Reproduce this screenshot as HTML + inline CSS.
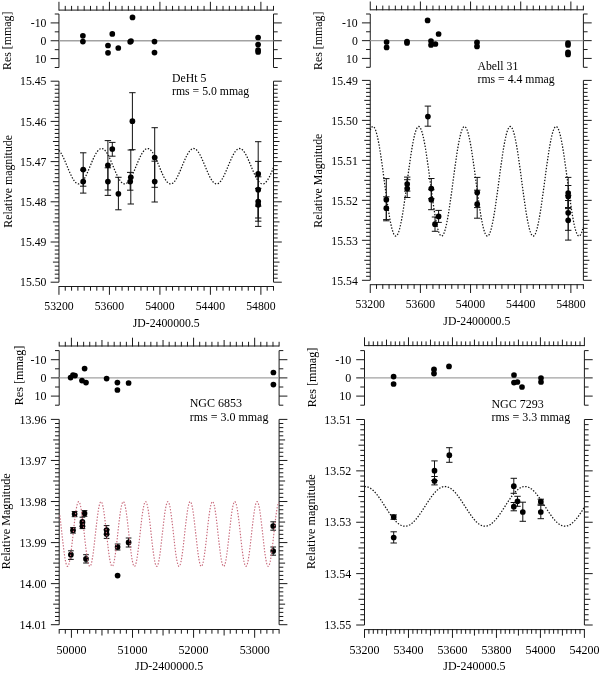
<!DOCTYPE html>
<html><head><meta charset="utf-8"><style>
html,body{margin:0;padding:0;background:#fff;}
body{width:600px;height:673px;overflow:hidden;}
svg{display:block;filter:blur(0.3px);}
text{font-family:"Liberation Serif",serif;fill:#000;}
</style></head><body>
<svg width="600" height="673" viewBox="0 0 600 673">
<rect width="600" height="673" fill="#fff"/>
<line x1="58.95" y1="10.10" x2="273.50" y2="10.10" stroke="#1a1a1a" stroke-width="1.0" />
<line x1="58.95" y1="10.60" x2="58.95" y2="1.80" stroke="#1a1a1a" stroke-width="1.0" />
<line x1="65.26" y1="10.60" x2="65.26" y2="5.90" stroke="#1a1a1a" stroke-width="1.0" />
<line x1="71.57" y1="10.60" x2="71.57" y2="5.90" stroke="#1a1a1a" stroke-width="1.0" />
<line x1="77.88" y1="10.60" x2="77.88" y2="5.90" stroke="#1a1a1a" stroke-width="1.0" />
<line x1="84.19" y1="10.60" x2="84.19" y2="5.90" stroke="#1a1a1a" stroke-width="1.0" />
<line x1="90.50" y1="10.60" x2="90.50" y2="5.90" stroke="#1a1a1a" stroke-width="1.0" />
<line x1="96.81" y1="10.60" x2="96.81" y2="5.90" stroke="#1a1a1a" stroke-width="1.0" />
<line x1="103.12" y1="10.60" x2="103.12" y2="5.90" stroke="#1a1a1a" stroke-width="1.0" />
<line x1="109.43" y1="10.60" x2="109.43" y2="1.80" stroke="#1a1a1a" stroke-width="1.0" />
<line x1="115.74" y1="10.60" x2="115.74" y2="5.90" stroke="#1a1a1a" stroke-width="1.0" />
<line x1="122.05" y1="10.60" x2="122.05" y2="5.90" stroke="#1a1a1a" stroke-width="1.0" />
<line x1="128.36" y1="10.60" x2="128.36" y2="5.90" stroke="#1a1a1a" stroke-width="1.0" />
<line x1="134.67" y1="10.60" x2="134.67" y2="5.90" stroke="#1a1a1a" stroke-width="1.0" />
<line x1="140.98" y1="10.60" x2="140.98" y2="5.90" stroke="#1a1a1a" stroke-width="1.0" />
<line x1="147.29" y1="10.60" x2="147.29" y2="5.90" stroke="#1a1a1a" stroke-width="1.0" />
<line x1="153.60" y1="10.60" x2="153.60" y2="5.90" stroke="#1a1a1a" stroke-width="1.0" />
<line x1="159.91" y1="10.60" x2="159.91" y2="1.80" stroke="#1a1a1a" stroke-width="1.0" />
<line x1="166.23" y1="10.60" x2="166.23" y2="5.90" stroke="#1a1a1a" stroke-width="1.0" />
<line x1="172.54" y1="10.60" x2="172.54" y2="5.90" stroke="#1a1a1a" stroke-width="1.0" />
<line x1="178.85" y1="10.60" x2="178.85" y2="5.90" stroke="#1a1a1a" stroke-width="1.0" />
<line x1="185.16" y1="10.60" x2="185.16" y2="5.90" stroke="#1a1a1a" stroke-width="1.0" />
<line x1="191.47" y1="10.60" x2="191.47" y2="5.90" stroke="#1a1a1a" stroke-width="1.0" />
<line x1="197.78" y1="10.60" x2="197.78" y2="5.90" stroke="#1a1a1a" stroke-width="1.0" />
<line x1="204.09" y1="10.60" x2="204.09" y2="5.90" stroke="#1a1a1a" stroke-width="1.0" />
<line x1="210.40" y1="10.60" x2="210.40" y2="1.80" stroke="#1a1a1a" stroke-width="1.0" />
<line x1="216.71" y1="10.60" x2="216.71" y2="5.90" stroke="#1a1a1a" stroke-width="1.0" />
<line x1="223.02" y1="10.60" x2="223.02" y2="5.90" stroke="#1a1a1a" stroke-width="1.0" />
<line x1="229.33" y1="10.60" x2="229.33" y2="5.90" stroke="#1a1a1a" stroke-width="1.0" />
<line x1="235.64" y1="10.60" x2="235.64" y2="5.90" stroke="#1a1a1a" stroke-width="1.0" />
<line x1="241.95" y1="10.60" x2="241.95" y2="5.90" stroke="#1a1a1a" stroke-width="1.0" />
<line x1="248.26" y1="10.60" x2="248.26" y2="5.90" stroke="#1a1a1a" stroke-width="1.0" />
<line x1="254.57" y1="10.60" x2="254.57" y2="5.90" stroke="#1a1a1a" stroke-width="1.0" />
<line x1="260.88" y1="10.60" x2="260.88" y2="1.80" stroke="#1a1a1a" stroke-width="1.0" />
<line x1="267.19" y1="10.60" x2="267.19" y2="5.90" stroke="#1a1a1a" stroke-width="1.0" />
<line x1="273.50" y1="10.60" x2="273.50" y2="5.90" stroke="#1a1a1a" stroke-width="1.0" />
<line x1="58.95" y1="286.50" x2="273.50" y2="286.50" stroke="#1a1a1a" stroke-width="1.0" />
<line x1="58.95" y1="286.00" x2="58.95" y2="294.80" stroke="#1a1a1a" stroke-width="1.0" />
<line x1="65.26" y1="286.00" x2="65.26" y2="290.70" stroke="#1a1a1a" stroke-width="1.0" />
<line x1="71.57" y1="286.00" x2="71.57" y2="290.70" stroke="#1a1a1a" stroke-width="1.0" />
<line x1="77.88" y1="286.00" x2="77.88" y2="290.70" stroke="#1a1a1a" stroke-width="1.0" />
<line x1="84.19" y1="286.00" x2="84.19" y2="290.70" stroke="#1a1a1a" stroke-width="1.0" />
<line x1="90.50" y1="286.00" x2="90.50" y2="290.70" stroke="#1a1a1a" stroke-width="1.0" />
<line x1="96.81" y1="286.00" x2="96.81" y2="290.70" stroke="#1a1a1a" stroke-width="1.0" />
<line x1="103.12" y1="286.00" x2="103.12" y2="290.70" stroke="#1a1a1a" stroke-width="1.0" />
<line x1="109.43" y1="286.00" x2="109.43" y2="294.80" stroke="#1a1a1a" stroke-width="1.0" />
<line x1="115.74" y1="286.00" x2="115.74" y2="290.70" stroke="#1a1a1a" stroke-width="1.0" />
<line x1="122.05" y1="286.00" x2="122.05" y2="290.70" stroke="#1a1a1a" stroke-width="1.0" />
<line x1="128.36" y1="286.00" x2="128.36" y2="290.70" stroke="#1a1a1a" stroke-width="1.0" />
<line x1="134.67" y1="286.00" x2="134.67" y2="290.70" stroke="#1a1a1a" stroke-width="1.0" />
<line x1="140.98" y1="286.00" x2="140.98" y2="290.70" stroke="#1a1a1a" stroke-width="1.0" />
<line x1="147.29" y1="286.00" x2="147.29" y2="290.70" stroke="#1a1a1a" stroke-width="1.0" />
<line x1="153.60" y1="286.00" x2="153.60" y2="290.70" stroke="#1a1a1a" stroke-width="1.0" />
<line x1="159.91" y1="286.00" x2="159.91" y2="294.80" stroke="#1a1a1a" stroke-width="1.0" />
<line x1="166.23" y1="286.00" x2="166.23" y2="290.70" stroke="#1a1a1a" stroke-width="1.0" />
<line x1="172.54" y1="286.00" x2="172.54" y2="290.70" stroke="#1a1a1a" stroke-width="1.0" />
<line x1="178.85" y1="286.00" x2="178.85" y2="290.70" stroke="#1a1a1a" stroke-width="1.0" />
<line x1="185.16" y1="286.00" x2="185.16" y2="290.70" stroke="#1a1a1a" stroke-width="1.0" />
<line x1="191.47" y1="286.00" x2="191.47" y2="290.70" stroke="#1a1a1a" stroke-width="1.0" />
<line x1="197.78" y1="286.00" x2="197.78" y2="290.70" stroke="#1a1a1a" stroke-width="1.0" />
<line x1="204.09" y1="286.00" x2="204.09" y2="290.70" stroke="#1a1a1a" stroke-width="1.0" />
<line x1="210.40" y1="286.00" x2="210.40" y2="294.80" stroke="#1a1a1a" stroke-width="1.0" />
<line x1="216.71" y1="286.00" x2="216.71" y2="290.70" stroke="#1a1a1a" stroke-width="1.0" />
<line x1="223.02" y1="286.00" x2="223.02" y2="290.70" stroke="#1a1a1a" stroke-width="1.0" />
<line x1="229.33" y1="286.00" x2="229.33" y2="290.70" stroke="#1a1a1a" stroke-width="1.0" />
<line x1="235.64" y1="286.00" x2="235.64" y2="290.70" stroke="#1a1a1a" stroke-width="1.0" />
<line x1="241.95" y1="286.00" x2="241.95" y2="290.70" stroke="#1a1a1a" stroke-width="1.0" />
<line x1="248.26" y1="286.00" x2="248.26" y2="290.70" stroke="#1a1a1a" stroke-width="1.0" />
<line x1="254.57" y1="286.00" x2="254.57" y2="290.70" stroke="#1a1a1a" stroke-width="1.0" />
<line x1="260.88" y1="286.00" x2="260.88" y2="294.80" stroke="#1a1a1a" stroke-width="1.0" />
<line x1="267.19" y1="286.00" x2="267.19" y2="290.70" stroke="#1a1a1a" stroke-width="1.0" />
<line x1="273.50" y1="286.00" x2="273.50" y2="290.70" stroke="#1a1a1a" stroke-width="1.0" />
<text x="58.95" y="310.30" text-anchor="middle" font-size="11.75" >53200</text>
<text x="109.43" y="310.30" text-anchor="middle" font-size="11.75" >53600</text>
<text x="159.91" y="310.30" text-anchor="middle" font-size="11.75" >54000</text>
<text x="210.40" y="310.30" text-anchor="middle" font-size="11.75" >54400</text>
<text x="260.88" y="310.30" text-anchor="middle" font-size="11.75" >54800</text>
<text x="166.22" y="326.80" text-anchor="middle" font-size="11.75" >JD-2400000.5</text>
<line x1="58.95" y1="14.00" x2="58.95" y2="67.50" stroke="#1a1a1a" stroke-width="1.0" />
<line x1="58.95" y1="14.00" x2="54.75" y2="14.00" stroke="#1a1a1a" stroke-width="1.0" />
<line x1="58.95" y1="22.92" x2="50.65" y2="22.92" stroke="#1a1a1a" stroke-width="1.0" />
<line x1="58.95" y1="31.83" x2="54.75" y2="31.83" stroke="#1a1a1a" stroke-width="1.0" />
<line x1="58.95" y1="40.75" x2="50.65" y2="40.75" stroke="#1a1a1a" stroke-width="1.0" />
<line x1="58.95" y1="49.67" x2="54.75" y2="49.67" stroke="#1a1a1a" stroke-width="1.0" />
<line x1="58.95" y1="58.58" x2="50.65" y2="58.58" stroke="#1a1a1a" stroke-width="1.0" />
<line x1="58.95" y1="67.50" x2="54.75" y2="67.50" stroke="#1a1a1a" stroke-width="1.0" />
<line x1="273.50" y1="14.00" x2="273.50" y2="67.50" stroke="#1a1a1a" stroke-width="1.0" />
<line x1="273.50" y1="14.00" x2="277.70" y2="14.00" stroke="#1a1a1a" stroke-width="1.0" />
<line x1="273.50" y1="22.92" x2="281.80" y2="22.92" stroke="#1a1a1a" stroke-width="1.0" />
<line x1="273.50" y1="31.83" x2="277.70" y2="31.83" stroke="#1a1a1a" stroke-width="1.0" />
<line x1="273.50" y1="40.75" x2="281.80" y2="40.75" stroke="#1a1a1a" stroke-width="1.0" />
<line x1="273.50" y1="49.67" x2="277.70" y2="49.67" stroke="#1a1a1a" stroke-width="1.0" />
<line x1="273.50" y1="58.58" x2="281.80" y2="58.58" stroke="#1a1a1a" stroke-width="1.0" />
<line x1="273.50" y1="67.50" x2="277.70" y2="67.50" stroke="#1a1a1a" stroke-width="1.0" />
<text x="46.45" y="27.12" text-anchor="end" font-size="11.75" >-10</text>
<text x="46.45" y="44.95" text-anchor="end" font-size="11.75" >0</text>
<text x="46.45" y="62.78" text-anchor="end" font-size="11.75" >10</text>
<line x1="58.95" y1="40.75" x2="273.50" y2="40.75" stroke="#a2a2a2" stroke-width="1.4"/>
<line x1="58.95" y1="81.20" x2="58.95" y2="282.20" stroke="#1a1a1a" stroke-width="1.0" />
<line x1="58.95" y1="81.20" x2="50.65" y2="81.20" stroke="#1a1a1a" stroke-width="1.0" />
<line x1="58.95" y1="85.22" x2="54.75" y2="85.22" stroke="#1a1a1a" stroke-width="1.0" />
<line x1="58.95" y1="89.24" x2="54.75" y2="89.24" stroke="#1a1a1a" stroke-width="1.0" />
<line x1="58.95" y1="93.26" x2="54.75" y2="93.26" stroke="#1a1a1a" stroke-width="1.0" />
<line x1="58.95" y1="97.28" x2="54.75" y2="97.28" stroke="#1a1a1a" stroke-width="1.0" />
<line x1="58.95" y1="101.30" x2="52.95" y2="101.30" stroke="#1a1a1a" stroke-width="1.0" />
<line x1="58.95" y1="105.32" x2="54.75" y2="105.32" stroke="#1a1a1a" stroke-width="1.0" />
<line x1="58.95" y1="109.34" x2="54.75" y2="109.34" stroke="#1a1a1a" stroke-width="1.0" />
<line x1="58.95" y1="113.36" x2="54.75" y2="113.36" stroke="#1a1a1a" stroke-width="1.0" />
<line x1="58.95" y1="117.38" x2="54.75" y2="117.38" stroke="#1a1a1a" stroke-width="1.0" />
<line x1="58.95" y1="121.40" x2="50.65" y2="121.40" stroke="#1a1a1a" stroke-width="1.0" />
<line x1="58.95" y1="125.42" x2="54.75" y2="125.42" stroke="#1a1a1a" stroke-width="1.0" />
<line x1="58.95" y1="129.44" x2="54.75" y2="129.44" stroke="#1a1a1a" stroke-width="1.0" />
<line x1="58.95" y1="133.46" x2="54.75" y2="133.46" stroke="#1a1a1a" stroke-width="1.0" />
<line x1="58.95" y1="137.48" x2="54.75" y2="137.48" stroke="#1a1a1a" stroke-width="1.0" />
<line x1="58.95" y1="141.50" x2="52.95" y2="141.50" stroke="#1a1a1a" stroke-width="1.0" />
<line x1="58.95" y1="145.52" x2="54.75" y2="145.52" stroke="#1a1a1a" stroke-width="1.0" />
<line x1="58.95" y1="149.54" x2="54.75" y2="149.54" stroke="#1a1a1a" stroke-width="1.0" />
<line x1="58.95" y1="153.56" x2="54.75" y2="153.56" stroke="#1a1a1a" stroke-width="1.0" />
<line x1="58.95" y1="157.58" x2="54.75" y2="157.58" stroke="#1a1a1a" stroke-width="1.0" />
<line x1="58.95" y1="161.60" x2="50.65" y2="161.60" stroke="#1a1a1a" stroke-width="1.0" />
<line x1="58.95" y1="165.62" x2="54.75" y2="165.62" stroke="#1a1a1a" stroke-width="1.0" />
<line x1="58.95" y1="169.64" x2="54.75" y2="169.64" stroke="#1a1a1a" stroke-width="1.0" />
<line x1="58.95" y1="173.66" x2="54.75" y2="173.66" stroke="#1a1a1a" stroke-width="1.0" />
<line x1="58.95" y1="177.68" x2="54.75" y2="177.68" stroke="#1a1a1a" stroke-width="1.0" />
<line x1="58.95" y1="181.70" x2="52.95" y2="181.70" stroke="#1a1a1a" stroke-width="1.0" />
<line x1="58.95" y1="185.72" x2="54.75" y2="185.72" stroke="#1a1a1a" stroke-width="1.0" />
<line x1="58.95" y1="189.74" x2="54.75" y2="189.74" stroke="#1a1a1a" stroke-width="1.0" />
<line x1="58.95" y1="193.76" x2="54.75" y2="193.76" stroke="#1a1a1a" stroke-width="1.0" />
<line x1="58.95" y1="197.78" x2="54.75" y2="197.78" stroke="#1a1a1a" stroke-width="1.0" />
<line x1="58.95" y1="201.80" x2="50.65" y2="201.80" stroke="#1a1a1a" stroke-width="1.0" />
<line x1="58.95" y1="205.82" x2="54.75" y2="205.82" stroke="#1a1a1a" stroke-width="1.0" />
<line x1="58.95" y1="209.84" x2="54.75" y2="209.84" stroke="#1a1a1a" stroke-width="1.0" />
<line x1="58.95" y1="213.86" x2="54.75" y2="213.86" stroke="#1a1a1a" stroke-width="1.0" />
<line x1="58.95" y1="217.88" x2="54.75" y2="217.88" stroke="#1a1a1a" stroke-width="1.0" />
<line x1="58.95" y1="221.90" x2="52.95" y2="221.90" stroke="#1a1a1a" stroke-width="1.0" />
<line x1="58.95" y1="225.92" x2="54.75" y2="225.92" stroke="#1a1a1a" stroke-width="1.0" />
<line x1="58.95" y1="229.94" x2="54.75" y2="229.94" stroke="#1a1a1a" stroke-width="1.0" />
<line x1="58.95" y1="233.96" x2="54.75" y2="233.96" stroke="#1a1a1a" stroke-width="1.0" />
<line x1="58.95" y1="237.98" x2="54.75" y2="237.98" stroke="#1a1a1a" stroke-width="1.0" />
<line x1="58.95" y1="242.00" x2="50.65" y2="242.00" stroke="#1a1a1a" stroke-width="1.0" />
<line x1="58.95" y1="246.02" x2="54.75" y2="246.02" stroke="#1a1a1a" stroke-width="1.0" />
<line x1="58.95" y1="250.04" x2="54.75" y2="250.04" stroke="#1a1a1a" stroke-width="1.0" />
<line x1="58.95" y1="254.06" x2="54.75" y2="254.06" stroke="#1a1a1a" stroke-width="1.0" />
<line x1="58.95" y1="258.08" x2="54.75" y2="258.08" stroke="#1a1a1a" stroke-width="1.0" />
<line x1="58.95" y1="262.10" x2="52.95" y2="262.10" stroke="#1a1a1a" stroke-width="1.0" />
<line x1="58.95" y1="266.12" x2="54.75" y2="266.12" stroke="#1a1a1a" stroke-width="1.0" />
<line x1="58.95" y1="270.14" x2="54.75" y2="270.14" stroke="#1a1a1a" stroke-width="1.0" />
<line x1="58.95" y1="274.16" x2="54.75" y2="274.16" stroke="#1a1a1a" stroke-width="1.0" />
<line x1="58.95" y1="278.18" x2="54.75" y2="278.18" stroke="#1a1a1a" stroke-width="1.0" />
<line x1="58.95" y1="282.20" x2="50.65" y2="282.20" stroke="#1a1a1a" stroke-width="1.0" />
<line x1="273.50" y1="81.20" x2="273.50" y2="282.20" stroke="#1a1a1a" stroke-width="1.0" />
<line x1="273.50" y1="81.20" x2="281.80" y2="81.20" stroke="#1a1a1a" stroke-width="1.0" />
<line x1="273.50" y1="85.22" x2="277.70" y2="85.22" stroke="#1a1a1a" stroke-width="1.0" />
<line x1="273.50" y1="89.24" x2="277.70" y2="89.24" stroke="#1a1a1a" stroke-width="1.0" />
<line x1="273.50" y1="93.26" x2="277.70" y2="93.26" stroke="#1a1a1a" stroke-width="1.0" />
<line x1="273.50" y1="97.28" x2="277.70" y2="97.28" stroke="#1a1a1a" stroke-width="1.0" />
<line x1="273.50" y1="101.30" x2="279.50" y2="101.30" stroke="#1a1a1a" stroke-width="1.0" />
<line x1="273.50" y1="105.32" x2="277.70" y2="105.32" stroke="#1a1a1a" stroke-width="1.0" />
<line x1="273.50" y1="109.34" x2="277.70" y2="109.34" stroke="#1a1a1a" stroke-width="1.0" />
<line x1="273.50" y1="113.36" x2="277.70" y2="113.36" stroke="#1a1a1a" stroke-width="1.0" />
<line x1="273.50" y1="117.38" x2="277.70" y2="117.38" stroke="#1a1a1a" stroke-width="1.0" />
<line x1="273.50" y1="121.40" x2="281.80" y2="121.40" stroke="#1a1a1a" stroke-width="1.0" />
<line x1="273.50" y1="125.42" x2="277.70" y2="125.42" stroke="#1a1a1a" stroke-width="1.0" />
<line x1="273.50" y1="129.44" x2="277.70" y2="129.44" stroke="#1a1a1a" stroke-width="1.0" />
<line x1="273.50" y1="133.46" x2="277.70" y2="133.46" stroke="#1a1a1a" stroke-width="1.0" />
<line x1="273.50" y1="137.48" x2="277.70" y2="137.48" stroke="#1a1a1a" stroke-width="1.0" />
<line x1="273.50" y1="141.50" x2="279.50" y2="141.50" stroke="#1a1a1a" stroke-width="1.0" />
<line x1="273.50" y1="145.52" x2="277.70" y2="145.52" stroke="#1a1a1a" stroke-width="1.0" />
<line x1="273.50" y1="149.54" x2="277.70" y2="149.54" stroke="#1a1a1a" stroke-width="1.0" />
<line x1="273.50" y1="153.56" x2="277.70" y2="153.56" stroke="#1a1a1a" stroke-width="1.0" />
<line x1="273.50" y1="157.58" x2="277.70" y2="157.58" stroke="#1a1a1a" stroke-width="1.0" />
<line x1="273.50" y1="161.60" x2="281.80" y2="161.60" stroke="#1a1a1a" stroke-width="1.0" />
<line x1="273.50" y1="165.62" x2="277.70" y2="165.62" stroke="#1a1a1a" stroke-width="1.0" />
<line x1="273.50" y1="169.64" x2="277.70" y2="169.64" stroke="#1a1a1a" stroke-width="1.0" />
<line x1="273.50" y1="173.66" x2="277.70" y2="173.66" stroke="#1a1a1a" stroke-width="1.0" />
<line x1="273.50" y1="177.68" x2="277.70" y2="177.68" stroke="#1a1a1a" stroke-width="1.0" />
<line x1="273.50" y1="181.70" x2="279.50" y2="181.70" stroke="#1a1a1a" stroke-width="1.0" />
<line x1="273.50" y1="185.72" x2="277.70" y2="185.72" stroke="#1a1a1a" stroke-width="1.0" />
<line x1="273.50" y1="189.74" x2="277.70" y2="189.74" stroke="#1a1a1a" stroke-width="1.0" />
<line x1="273.50" y1="193.76" x2="277.70" y2="193.76" stroke="#1a1a1a" stroke-width="1.0" />
<line x1="273.50" y1="197.78" x2="277.70" y2="197.78" stroke="#1a1a1a" stroke-width="1.0" />
<line x1="273.50" y1="201.80" x2="281.80" y2="201.80" stroke="#1a1a1a" stroke-width="1.0" />
<line x1="273.50" y1="205.82" x2="277.70" y2="205.82" stroke="#1a1a1a" stroke-width="1.0" />
<line x1="273.50" y1="209.84" x2="277.70" y2="209.84" stroke="#1a1a1a" stroke-width="1.0" />
<line x1="273.50" y1="213.86" x2="277.70" y2="213.86" stroke="#1a1a1a" stroke-width="1.0" />
<line x1="273.50" y1="217.88" x2="277.70" y2="217.88" stroke="#1a1a1a" stroke-width="1.0" />
<line x1="273.50" y1="221.90" x2="279.50" y2="221.90" stroke="#1a1a1a" stroke-width="1.0" />
<line x1="273.50" y1="225.92" x2="277.70" y2="225.92" stroke="#1a1a1a" stroke-width="1.0" />
<line x1="273.50" y1="229.94" x2="277.70" y2="229.94" stroke="#1a1a1a" stroke-width="1.0" />
<line x1="273.50" y1="233.96" x2="277.70" y2="233.96" stroke="#1a1a1a" stroke-width="1.0" />
<line x1="273.50" y1="237.98" x2="277.70" y2="237.98" stroke="#1a1a1a" stroke-width="1.0" />
<line x1="273.50" y1="242.00" x2="281.80" y2="242.00" stroke="#1a1a1a" stroke-width="1.0" />
<line x1="273.50" y1="246.02" x2="277.70" y2="246.02" stroke="#1a1a1a" stroke-width="1.0" />
<line x1="273.50" y1="250.04" x2="277.70" y2="250.04" stroke="#1a1a1a" stroke-width="1.0" />
<line x1="273.50" y1="254.06" x2="277.70" y2="254.06" stroke="#1a1a1a" stroke-width="1.0" />
<line x1="273.50" y1="258.08" x2="277.70" y2="258.08" stroke="#1a1a1a" stroke-width="1.0" />
<line x1="273.50" y1="262.10" x2="279.50" y2="262.10" stroke="#1a1a1a" stroke-width="1.0" />
<line x1="273.50" y1="266.12" x2="277.70" y2="266.12" stroke="#1a1a1a" stroke-width="1.0" />
<line x1="273.50" y1="270.14" x2="277.70" y2="270.14" stroke="#1a1a1a" stroke-width="1.0" />
<line x1="273.50" y1="274.16" x2="277.70" y2="274.16" stroke="#1a1a1a" stroke-width="1.0" />
<line x1="273.50" y1="278.18" x2="277.70" y2="278.18" stroke="#1a1a1a" stroke-width="1.0" />
<line x1="273.50" y1="282.20" x2="281.80" y2="282.20" stroke="#1a1a1a" stroke-width="1.0" />
<text x="46.45" y="85.40" text-anchor="end" font-size="11.75" >15.45</text>
<text x="46.45" y="125.60" text-anchor="end" font-size="11.75" >15.46</text>
<text x="46.45" y="165.80" text-anchor="end" font-size="11.75" >15.47</text>
<text x="46.45" y="206.00" text-anchor="end" font-size="11.75" >15.48</text>
<text x="46.45" y="246.20" text-anchor="end" font-size="11.75" >15.49</text>
<text x="46.45" y="286.40" text-anchor="end" font-size="11.75" >15.50</text>
<text x="0" y="0" text-anchor="middle" font-size="11.9" transform="translate(10.60,40.80) rotate(-90)">Res [mmag]</text>
<text x="0" y="0" text-anchor="middle" font-size="11.9" transform="translate(11.75,181.30) rotate(-90)">Relative magnitude</text>
<text x="172.00" y="81.70" text-anchor="start" font-size="11.75" >DeHt 5</text>
<text x="172.00" y="94.70" text-anchor="start" font-size="11.75" >rms = 5.0 mmag</text>
<polyline points="58.95,150.32 59.45,150.89 59.95,151.53 60.45,152.24 60.95,153.02 61.45,153.86 61.95,154.75 62.45,155.70 62.95,156.70 63.45,157.74 63.95,158.82 64.45,159.93 64.95,161.08 65.45,162.24 65.95,163.43 66.45,164.63 66.95,165.84 67.45,167.05 67.95,168.25 68.45,169.45 68.95,170.63 69.45,171.78 69.95,172.92 70.45,174.02 70.95,175.08 71.45,176.11 71.95,177.09 72.45,178.01 72.95,178.89 73.45,179.70 73.95,180.45 74.45,181.13 74.95,181.75 75.45,182.29 75.95,182.75 76.45,183.14 76.95,183.45 77.45,183.68 77.95,183.83 78.45,183.90 78.95,183.88 79.45,183.78 79.95,183.60 80.45,183.34 80.95,183.00 81.45,182.58 81.95,182.08 82.45,181.51 82.95,180.87 83.45,180.16 83.95,179.38 84.45,178.54 84.95,177.65 85.45,176.70 85.95,175.70 86.45,174.66 86.95,173.58 87.45,172.47 87.95,171.32 88.45,170.16 88.95,168.97 89.45,167.77 89.95,166.56 90.45,165.35 90.95,164.15 91.45,162.95 91.95,161.77 92.45,160.62 92.95,159.48 93.45,158.38 93.95,157.32 94.45,156.29 94.95,155.31 95.45,154.39 95.95,153.51 96.45,152.70 96.95,151.95 97.45,151.27 97.95,150.65 98.45,150.11 98.95,149.65 99.45,149.26 99.95,148.95 100.45,148.72 100.95,148.57 101.45,148.50 101.95,148.52 102.45,148.62 102.95,148.80 103.45,149.06 103.95,149.40 104.45,149.82 104.95,150.32 105.45,150.89 105.95,151.53 106.45,152.24 106.95,153.02 107.45,153.86 107.95,154.75 108.45,155.70 108.95,156.70 109.45,157.74 109.95,158.82 110.45,159.93 110.95,161.08 111.45,162.24 111.95,163.43 112.45,164.63 112.95,165.84 113.45,167.05 113.95,168.25 114.45,169.45 114.95,170.63 115.45,171.78 115.95,172.92 116.45,174.02 116.95,175.08 117.45,176.11 117.95,177.09 118.45,178.01 118.95,178.89 119.45,179.70 119.95,180.45 120.45,181.13 120.95,181.75 121.45,182.29 121.95,182.75 122.45,183.14 122.95,183.45 123.45,183.68 123.95,183.83 124.45,183.90 124.95,183.88 125.45,183.78 125.95,183.60 126.45,183.34 126.95,183.00 127.45,182.58 127.95,182.08 128.45,181.51 128.95,180.87 129.45,180.16 129.95,179.38 130.45,178.54 130.95,177.65 131.45,176.70 131.95,175.70 132.45,174.66 132.95,173.58 133.45,172.47 133.95,171.32 134.45,170.16 134.95,168.97 135.45,167.77 135.95,166.56 136.45,165.35 136.95,164.15 137.45,162.95 137.95,161.77 138.45,160.62 138.95,159.48 139.45,158.38 139.95,157.32 140.45,156.29 140.95,155.31 141.45,154.39 141.95,153.51 142.45,152.70 142.95,151.95 143.45,151.27 143.95,150.65 144.45,150.11 144.95,149.65 145.45,149.26 145.95,148.95 146.45,148.72 146.95,148.57 147.45,148.50 147.95,148.52 148.45,148.62 148.95,148.80 149.45,149.06 149.95,149.40 150.45,149.82 150.95,150.32 151.45,150.89 151.95,151.53 152.45,152.24 152.95,153.02 153.45,153.86 153.95,154.75 154.45,155.70 154.95,156.70 155.45,157.74 155.95,158.82 156.45,159.93 156.95,161.08 157.45,162.24 157.95,163.43 158.45,164.63 158.95,165.84 159.45,167.05 159.95,168.25 160.45,169.45 160.95,170.63 161.45,171.78 161.95,172.92 162.45,174.02 162.95,175.08 163.45,176.11 163.95,177.09 164.45,178.01 164.95,178.89 165.45,179.70 165.95,180.45 166.45,181.13 166.95,181.75 167.45,182.29 167.95,182.75 168.45,183.14 168.95,183.45 169.45,183.68 169.95,183.83 170.45,183.90 170.95,183.88 171.45,183.78 171.95,183.60 172.45,183.34 172.95,183.00 173.45,182.58 173.95,182.08 174.45,181.51 174.95,180.87 175.45,180.16 175.95,179.38 176.45,178.54 176.95,177.65 177.45,176.70 177.95,175.70 178.45,174.66 178.95,173.58 179.45,172.47 179.95,171.32 180.45,170.16 180.95,168.97 181.45,167.77 181.95,166.56 182.45,165.35 182.95,164.15 183.45,162.95 183.95,161.77 184.45,160.62 184.95,159.48 185.45,158.38 185.95,157.32 186.45,156.29 186.95,155.31 187.45,154.39 187.95,153.51 188.45,152.70 188.95,151.95 189.45,151.27 189.95,150.65 190.45,150.11 190.95,149.65 191.45,149.26 191.95,148.95 192.45,148.72 192.95,148.57 193.45,148.50 193.95,148.52 194.45,148.62 194.95,148.80 195.45,149.06 195.95,149.40 196.45,149.82 196.95,150.32 197.45,150.89 197.95,151.53 198.45,152.24 198.95,153.02 199.45,153.86 199.95,154.75 200.45,155.70 200.95,156.70 201.45,157.74 201.95,158.82 202.45,159.93 202.95,161.08 203.45,162.24 203.95,163.43 204.45,164.63 204.95,165.84 205.45,167.05 205.95,168.25 206.45,169.45 206.95,170.63 207.45,171.78 207.95,172.92 208.45,174.02 208.95,175.08 209.45,176.11 209.95,177.09 210.45,178.01 210.95,178.89 211.45,179.70 211.95,180.45 212.45,181.13 212.95,181.75 213.45,182.29 213.95,182.75 214.45,183.14 214.95,183.45 215.45,183.68 215.95,183.83 216.45,183.90 216.95,183.88 217.45,183.78 217.95,183.60 218.45,183.34 218.95,183.00 219.45,182.58 219.95,182.08 220.45,181.51 220.95,180.87 221.45,180.16 221.95,179.38 222.45,178.54 222.95,177.65 223.45,176.70 223.95,175.70 224.45,174.66 224.95,173.58 225.45,172.47 225.95,171.32 226.45,170.16 226.95,168.97 227.45,167.77 227.95,166.56 228.45,165.35 228.95,164.15 229.45,162.95 229.95,161.77 230.45,160.62 230.95,159.48 231.45,158.38 231.95,157.32 232.45,156.29 232.95,155.31 233.45,154.39 233.95,153.51 234.45,152.70 234.95,151.95 235.45,151.27 235.95,150.65 236.45,150.11 236.95,149.65 237.45,149.26 237.95,148.95 238.45,148.72 238.95,148.57 239.45,148.50 239.95,148.52 240.45,148.62 240.95,148.80 241.45,149.06 241.95,149.40 242.45,149.82 242.95,150.32 243.45,150.89 243.95,151.53 244.45,152.24 244.95,153.02 245.45,153.86 245.95,154.75 246.45,155.70 246.95,156.70 247.45,157.74 247.95,158.82 248.45,159.93 248.95,161.08 249.45,162.24 249.95,163.43 250.45,164.63 250.95,165.84 251.45,167.05 251.95,168.25 252.45,169.45 252.95,170.63 253.45,171.78 253.95,172.92 254.45,174.02 254.95,175.08 255.45,176.11 255.95,177.09 256.45,178.01 256.95,178.89 257.45,179.70 257.95,180.45 258.45,181.13 258.95,181.75 259.45,182.29 259.95,182.75 260.45,183.14 260.95,183.45 261.45,183.68 261.95,183.83 262.45,183.90 262.95,183.88 263.45,183.78 263.95,183.60 264.45,183.34 264.95,183.00 265.45,182.58 265.95,182.08 266.45,181.51 266.95,180.87 267.45,180.16 267.95,179.38 268.45,178.54 268.95,177.65 269.45,176.70 269.95,175.70 270.45,174.66 270.95,173.58 271.45,172.47 271.95,171.32 272.45,170.16 272.95,168.97 273.45,167.77" fill="none" stroke="#111" stroke-width="1.25" stroke-dasharray="1.4 1.6"/>
<line x1="83.20" y1="152.80" x2="83.20" y2="186.20" stroke="#111" stroke-width="1.0" />
<line x1="80.00" y1="152.80" x2="86.40" y2="152.80" stroke="#111" stroke-width="1.0" />
<line x1="80.00" y1="186.20" x2="86.40" y2="186.20" stroke="#111" stroke-width="1.0" />
<line x1="83.20" y1="170.10" x2="83.20" y2="193.10" stroke="#111" stroke-width="1.0" />
<line x1="80.00" y1="170.10" x2="86.40" y2="170.10" stroke="#111" stroke-width="1.0" />
<line x1="80.00" y1="193.10" x2="86.40" y2="193.10" stroke="#111" stroke-width="1.0" />
<line x1="107.90" y1="140.60" x2="107.90" y2="190.00" stroke="#111" stroke-width="1.0" />
<line x1="104.70" y1="140.60" x2="111.10" y2="140.60" stroke="#111" stroke-width="1.0" />
<line x1="104.70" y1="190.00" x2="111.10" y2="190.00" stroke="#111" stroke-width="1.0" />
<line x1="107.90" y1="167.80" x2="107.90" y2="195.40" stroke="#111" stroke-width="1.0" />
<line x1="104.70" y1="167.80" x2="111.10" y2="167.80" stroke="#111" stroke-width="1.0" />
<line x1="104.70" y1="195.40" x2="111.10" y2="195.40" stroke="#111" stroke-width="1.0" />
<line x1="112.30" y1="142.40" x2="112.30" y2="156.20" stroke="#111" stroke-width="1.0" />
<line x1="109.10" y1="142.40" x2="115.50" y2="142.40" stroke="#111" stroke-width="1.0" />
<line x1="109.10" y1="156.20" x2="115.50" y2="156.20" stroke="#111" stroke-width="1.0" />
<line x1="118.40" y1="177.30" x2="118.40" y2="209.80" stroke="#111" stroke-width="1.0" />
<line x1="115.20" y1="177.30" x2="121.60" y2="177.30" stroke="#111" stroke-width="1.0" />
<line x1="115.20" y1="209.80" x2="121.60" y2="209.80" stroke="#111" stroke-width="1.0" />
<line x1="132.40" y1="92.70" x2="132.40" y2="149.70" stroke="#111" stroke-width="1.0" />
<line x1="129.20" y1="92.70" x2="135.60" y2="92.70" stroke="#111" stroke-width="1.0" />
<line x1="129.20" y1="149.70" x2="135.60" y2="149.70" stroke="#111" stroke-width="1.0" />
<line x1="130.80" y1="150.00" x2="130.80" y2="204.00" stroke="#111" stroke-width="1.0" />
<line x1="127.60" y1="150.00" x2="134.00" y2="150.00" stroke="#111" stroke-width="1.0" />
<line x1="127.60" y1="204.00" x2="134.00" y2="204.00" stroke="#111" stroke-width="1.0" />
<line x1="130.20" y1="172.40" x2="130.20" y2="190.20" stroke="#111" stroke-width="1.0" />
<line x1="127.00" y1="172.40" x2="133.40" y2="172.40" stroke="#111" stroke-width="1.0" />
<line x1="127.00" y1="190.20" x2="133.40" y2="190.20" stroke="#111" stroke-width="1.0" />
<line x1="154.70" y1="127.70" x2="154.70" y2="187.30" stroke="#111" stroke-width="1.0" />
<line x1="151.50" y1="127.70" x2="157.90" y2="127.70" stroke="#111" stroke-width="1.0" />
<line x1="151.50" y1="187.30" x2="157.90" y2="187.30" stroke="#111" stroke-width="1.0" />
<line x1="154.70" y1="161.20" x2="154.70" y2="202.00" stroke="#111" stroke-width="1.0" />
<line x1="151.50" y1="161.20" x2="157.90" y2="161.20" stroke="#111" stroke-width="1.0" />
<line x1="151.50" y1="202.00" x2="157.90" y2="202.00" stroke="#111" stroke-width="1.0" />
<line x1="258.20" y1="141.70" x2="258.20" y2="206.10" stroke="#111" stroke-width="1.0" />
<line x1="255.00" y1="141.70" x2="261.40" y2="141.70" stroke="#111" stroke-width="1.0" />
<line x1="255.00" y1="206.10" x2="261.40" y2="206.10" stroke="#111" stroke-width="1.0" />
<line x1="258.20" y1="161.40" x2="258.20" y2="218.00" stroke="#111" stroke-width="1.0" />
<line x1="255.00" y1="161.40" x2="261.40" y2="161.40" stroke="#111" stroke-width="1.0" />
<line x1="255.00" y1="218.00" x2="261.40" y2="218.00" stroke="#111" stroke-width="1.0" />
<line x1="258.20" y1="176.80" x2="258.20" y2="226.40" stroke="#111" stroke-width="1.0" />
<line x1="255.00" y1="176.80" x2="261.40" y2="176.80" stroke="#111" stroke-width="1.0" />
<line x1="255.00" y1="226.40" x2="261.40" y2="226.40" stroke="#111" stroke-width="1.0" />
<line x1="258.20" y1="188.40" x2="258.20" y2="221.20" stroke="#111" stroke-width="1.0" />
<line x1="255.00" y1="188.40" x2="261.40" y2="188.40" stroke="#111" stroke-width="1.0" />
<line x1="255.00" y1="221.20" x2="261.40" y2="221.20" stroke="#111" stroke-width="1.0" />
<circle cx="83.20" cy="169.50" r="2.85" fill="#000"/>
<circle cx="83.20" cy="181.60" r="2.85" fill="#000"/>
<circle cx="107.90" cy="165.30" r="2.85" fill="#000"/>
<circle cx="107.90" cy="181.60" r="2.85" fill="#000"/>
<circle cx="112.30" cy="149.00" r="2.85" fill="#000"/>
<circle cx="118.40" cy="193.80" r="2.85" fill="#000"/>
<circle cx="132.40" cy="121.20" r="2.85" fill="#000"/>
<circle cx="130.80" cy="177.30" r="2.85" fill="#000"/>
<circle cx="130.20" cy="181.60" r="2.85" fill="#000"/>
<circle cx="154.70" cy="157.50" r="2.85" fill="#000"/>
<circle cx="154.70" cy="181.60" r="2.85" fill="#000"/>
<circle cx="258.20" cy="173.90" r="2.85" fill="#000"/>
<circle cx="258.20" cy="189.70" r="2.85" fill="#000"/>
<circle cx="258.20" cy="201.60" r="2.85" fill="#000"/>
<circle cx="258.20" cy="204.80" r="2.85" fill="#000"/>
<circle cx="82.90" cy="35.80" r="2.85" fill="#000"/>
<circle cx="82.90" cy="41.60" r="2.85" fill="#000"/>
<circle cx="108.00" cy="45.50" r="2.85" fill="#000"/>
<circle cx="108.00" cy="52.80" r="2.85" fill="#000"/>
<circle cx="112.30" cy="33.90" r="2.85" fill="#000"/>
<circle cx="118.30" cy="48.00" r="2.85" fill="#000"/>
<circle cx="132.50" cy="17.40" r="2.85" fill="#000"/>
<circle cx="130.20" cy="41.80" r="2.85" fill="#000"/>
<circle cx="131.00" cy="41.00" r="2.85" fill="#000"/>
<circle cx="154.50" cy="41.60" r="2.85" fill="#000"/>
<circle cx="154.50" cy="52.60" r="2.85" fill="#000"/>
<circle cx="258.10" cy="37.50" r="2.85" fill="#000"/>
<circle cx="258.10" cy="44.60" r="2.85" fill="#000"/>
<circle cx="258.10" cy="50.00" r="2.85" fill="#000"/>
<circle cx="258.10" cy="51.90" r="2.85" fill="#000"/>
<line x1="370.25" y1="9.80" x2="583.40" y2="9.80" stroke="#1a1a1a" stroke-width="1.0" />
<line x1="370.25" y1="10.30" x2="370.25" y2="1.50" stroke="#1a1a1a" stroke-width="1.0" />
<line x1="376.52" y1="10.30" x2="376.52" y2="5.60" stroke="#1a1a1a" stroke-width="1.0" />
<line x1="382.79" y1="10.30" x2="382.79" y2="5.60" stroke="#1a1a1a" stroke-width="1.0" />
<line x1="389.06" y1="10.30" x2="389.06" y2="5.60" stroke="#1a1a1a" stroke-width="1.0" />
<line x1="395.33" y1="10.30" x2="395.33" y2="5.60" stroke="#1a1a1a" stroke-width="1.0" />
<line x1="401.60" y1="10.30" x2="401.60" y2="5.60" stroke="#1a1a1a" stroke-width="1.0" />
<line x1="407.86" y1="10.30" x2="407.86" y2="5.60" stroke="#1a1a1a" stroke-width="1.0" />
<line x1="414.13" y1="10.30" x2="414.13" y2="5.60" stroke="#1a1a1a" stroke-width="1.0" />
<line x1="420.40" y1="10.30" x2="420.40" y2="1.50" stroke="#1a1a1a" stroke-width="1.0" />
<line x1="426.67" y1="10.30" x2="426.67" y2="5.60" stroke="#1a1a1a" stroke-width="1.0" />
<line x1="432.94" y1="10.30" x2="432.94" y2="5.60" stroke="#1a1a1a" stroke-width="1.0" />
<line x1="439.21" y1="10.30" x2="439.21" y2="5.60" stroke="#1a1a1a" stroke-width="1.0" />
<line x1="445.48" y1="10.30" x2="445.48" y2="5.60" stroke="#1a1a1a" stroke-width="1.0" />
<line x1="451.75" y1="10.30" x2="451.75" y2="5.60" stroke="#1a1a1a" stroke-width="1.0" />
<line x1="458.02" y1="10.30" x2="458.02" y2="5.60" stroke="#1a1a1a" stroke-width="1.0" />
<line x1="464.29" y1="10.30" x2="464.29" y2="5.60" stroke="#1a1a1a" stroke-width="1.0" />
<line x1="470.56" y1="10.30" x2="470.56" y2="1.50" stroke="#1a1a1a" stroke-width="1.0" />
<line x1="476.82" y1="10.30" x2="476.82" y2="5.60" stroke="#1a1a1a" stroke-width="1.0" />
<line x1="483.09" y1="10.30" x2="483.09" y2="5.60" stroke="#1a1a1a" stroke-width="1.0" />
<line x1="489.36" y1="10.30" x2="489.36" y2="5.60" stroke="#1a1a1a" stroke-width="1.0" />
<line x1="495.63" y1="10.30" x2="495.63" y2="5.60" stroke="#1a1a1a" stroke-width="1.0" />
<line x1="501.90" y1="10.30" x2="501.90" y2="5.60" stroke="#1a1a1a" stroke-width="1.0" />
<line x1="508.17" y1="10.30" x2="508.17" y2="5.60" stroke="#1a1a1a" stroke-width="1.0" />
<line x1="514.44" y1="10.30" x2="514.44" y2="5.60" stroke="#1a1a1a" stroke-width="1.0" />
<line x1="520.71" y1="10.30" x2="520.71" y2="1.50" stroke="#1a1a1a" stroke-width="1.0" />
<line x1="526.98" y1="10.30" x2="526.98" y2="5.60" stroke="#1a1a1a" stroke-width="1.0" />
<line x1="533.25" y1="10.30" x2="533.25" y2="5.60" stroke="#1a1a1a" stroke-width="1.0" />
<line x1="539.52" y1="10.30" x2="539.52" y2="5.60" stroke="#1a1a1a" stroke-width="1.0" />
<line x1="545.79" y1="10.30" x2="545.79" y2="5.60" stroke="#1a1a1a" stroke-width="1.0" />
<line x1="552.05" y1="10.30" x2="552.05" y2="5.60" stroke="#1a1a1a" stroke-width="1.0" />
<line x1="558.32" y1="10.30" x2="558.32" y2="5.60" stroke="#1a1a1a" stroke-width="1.0" />
<line x1="564.59" y1="10.30" x2="564.59" y2="5.60" stroke="#1a1a1a" stroke-width="1.0" />
<line x1="570.86" y1="10.30" x2="570.86" y2="1.50" stroke="#1a1a1a" stroke-width="1.0" />
<line x1="577.13" y1="10.30" x2="577.13" y2="5.60" stroke="#1a1a1a" stroke-width="1.0" />
<line x1="583.40" y1="10.30" x2="583.40" y2="5.60" stroke="#1a1a1a" stroke-width="1.0" />
<line x1="370.25" y1="284.70" x2="583.40" y2="284.70" stroke="#1a1a1a" stroke-width="1.0" />
<line x1="370.25" y1="284.20" x2="370.25" y2="293.00" stroke="#1a1a1a" stroke-width="1.0" />
<line x1="376.52" y1="284.20" x2="376.52" y2="288.90" stroke="#1a1a1a" stroke-width="1.0" />
<line x1="382.79" y1="284.20" x2="382.79" y2="288.90" stroke="#1a1a1a" stroke-width="1.0" />
<line x1="389.06" y1="284.20" x2="389.06" y2="288.90" stroke="#1a1a1a" stroke-width="1.0" />
<line x1="395.33" y1="284.20" x2="395.33" y2="288.90" stroke="#1a1a1a" stroke-width="1.0" />
<line x1="401.60" y1="284.20" x2="401.60" y2="288.90" stroke="#1a1a1a" stroke-width="1.0" />
<line x1="407.86" y1="284.20" x2="407.86" y2="288.90" stroke="#1a1a1a" stroke-width="1.0" />
<line x1="414.13" y1="284.20" x2="414.13" y2="288.90" stroke="#1a1a1a" stroke-width="1.0" />
<line x1="420.40" y1="284.20" x2="420.40" y2="293.00" stroke="#1a1a1a" stroke-width="1.0" />
<line x1="426.67" y1="284.20" x2="426.67" y2="288.90" stroke="#1a1a1a" stroke-width="1.0" />
<line x1="432.94" y1="284.20" x2="432.94" y2="288.90" stroke="#1a1a1a" stroke-width="1.0" />
<line x1="439.21" y1="284.20" x2="439.21" y2="288.90" stroke="#1a1a1a" stroke-width="1.0" />
<line x1="445.48" y1="284.20" x2="445.48" y2="288.90" stroke="#1a1a1a" stroke-width="1.0" />
<line x1="451.75" y1="284.20" x2="451.75" y2="288.90" stroke="#1a1a1a" stroke-width="1.0" />
<line x1="458.02" y1="284.20" x2="458.02" y2="288.90" stroke="#1a1a1a" stroke-width="1.0" />
<line x1="464.29" y1="284.20" x2="464.29" y2="288.90" stroke="#1a1a1a" stroke-width="1.0" />
<line x1="470.56" y1="284.20" x2="470.56" y2="293.00" stroke="#1a1a1a" stroke-width="1.0" />
<line x1="476.82" y1="284.20" x2="476.82" y2="288.90" stroke="#1a1a1a" stroke-width="1.0" />
<line x1="483.09" y1="284.20" x2="483.09" y2="288.90" stroke="#1a1a1a" stroke-width="1.0" />
<line x1="489.36" y1="284.20" x2="489.36" y2="288.90" stroke="#1a1a1a" stroke-width="1.0" />
<line x1="495.63" y1="284.20" x2="495.63" y2="288.90" stroke="#1a1a1a" stroke-width="1.0" />
<line x1="501.90" y1="284.20" x2="501.90" y2="288.90" stroke="#1a1a1a" stroke-width="1.0" />
<line x1="508.17" y1="284.20" x2="508.17" y2="288.90" stroke="#1a1a1a" stroke-width="1.0" />
<line x1="514.44" y1="284.20" x2="514.44" y2="288.90" stroke="#1a1a1a" stroke-width="1.0" />
<line x1="520.71" y1="284.20" x2="520.71" y2="293.00" stroke="#1a1a1a" stroke-width="1.0" />
<line x1="526.98" y1="284.20" x2="526.98" y2="288.90" stroke="#1a1a1a" stroke-width="1.0" />
<line x1="533.25" y1="284.20" x2="533.25" y2="288.90" stroke="#1a1a1a" stroke-width="1.0" />
<line x1="539.52" y1="284.20" x2="539.52" y2="288.90" stroke="#1a1a1a" stroke-width="1.0" />
<line x1="545.79" y1="284.20" x2="545.79" y2="288.90" stroke="#1a1a1a" stroke-width="1.0" />
<line x1="552.05" y1="284.20" x2="552.05" y2="288.90" stroke="#1a1a1a" stroke-width="1.0" />
<line x1="558.32" y1="284.20" x2="558.32" y2="288.90" stroke="#1a1a1a" stroke-width="1.0" />
<line x1="564.59" y1="284.20" x2="564.59" y2="288.90" stroke="#1a1a1a" stroke-width="1.0" />
<line x1="570.86" y1="284.20" x2="570.86" y2="293.00" stroke="#1a1a1a" stroke-width="1.0" />
<line x1="577.13" y1="284.20" x2="577.13" y2="288.90" stroke="#1a1a1a" stroke-width="1.0" />
<line x1="583.40" y1="284.20" x2="583.40" y2="288.90" stroke="#1a1a1a" stroke-width="1.0" />
<text x="370.25" y="307.80" text-anchor="middle" font-size="11.75" >53200</text>
<text x="420.40" y="307.80" text-anchor="middle" font-size="11.75" >53600</text>
<text x="470.56" y="307.80" text-anchor="middle" font-size="11.75" >54000</text>
<text x="520.71" y="307.80" text-anchor="middle" font-size="11.75" >54400</text>
<text x="570.86" y="307.80" text-anchor="middle" font-size="11.75" >54800</text>
<text x="476.82" y="324.70" text-anchor="middle" font-size="11.75" >JD-2400000.5</text>
<line x1="370.25" y1="14.00" x2="370.25" y2="67.30" stroke="#1a1a1a" stroke-width="1.0" />
<line x1="370.25" y1="14.00" x2="366.05" y2="14.00" stroke="#1a1a1a" stroke-width="1.0" />
<line x1="370.25" y1="22.88" x2="361.95" y2="22.88" stroke="#1a1a1a" stroke-width="1.0" />
<line x1="370.25" y1="31.77" x2="366.05" y2="31.77" stroke="#1a1a1a" stroke-width="1.0" />
<line x1="370.25" y1="40.65" x2="361.95" y2="40.65" stroke="#1a1a1a" stroke-width="1.0" />
<line x1="370.25" y1="49.53" x2="366.05" y2="49.53" stroke="#1a1a1a" stroke-width="1.0" />
<line x1="370.25" y1="58.42" x2="361.95" y2="58.42" stroke="#1a1a1a" stroke-width="1.0" />
<line x1="370.25" y1="67.30" x2="366.05" y2="67.30" stroke="#1a1a1a" stroke-width="1.0" />
<line x1="583.40" y1="14.00" x2="583.40" y2="67.30" stroke="#1a1a1a" stroke-width="1.0" />
<line x1="583.40" y1="14.00" x2="587.60" y2="14.00" stroke="#1a1a1a" stroke-width="1.0" />
<line x1="583.40" y1="22.88" x2="591.70" y2="22.88" stroke="#1a1a1a" stroke-width="1.0" />
<line x1="583.40" y1="31.77" x2="587.60" y2="31.77" stroke="#1a1a1a" stroke-width="1.0" />
<line x1="583.40" y1="40.65" x2="591.70" y2="40.65" stroke="#1a1a1a" stroke-width="1.0" />
<line x1="583.40" y1="49.53" x2="587.60" y2="49.53" stroke="#1a1a1a" stroke-width="1.0" />
<line x1="583.40" y1="58.42" x2="591.70" y2="58.42" stroke="#1a1a1a" stroke-width="1.0" />
<line x1="583.40" y1="67.30" x2="587.60" y2="67.30" stroke="#1a1a1a" stroke-width="1.0" />
<text x="357.75" y="27.08" text-anchor="end" font-size="11.75" >-10</text>
<text x="357.75" y="44.85" text-anchor="end" font-size="11.75" >0</text>
<text x="357.75" y="62.62" text-anchor="end" font-size="11.75" >10</text>
<line x1="370.25" y1="40.65" x2="583.40" y2="40.65" stroke="#a2a2a2" stroke-width="1.4"/>
<line x1="370.25" y1="80.40" x2="370.25" y2="280.30" stroke="#1a1a1a" stroke-width="1.0" />
<line x1="370.25" y1="80.40" x2="361.95" y2="80.40" stroke="#1a1a1a" stroke-width="1.0" />
<line x1="370.25" y1="84.40" x2="366.05" y2="84.40" stroke="#1a1a1a" stroke-width="1.0" />
<line x1="370.25" y1="88.40" x2="366.05" y2="88.40" stroke="#1a1a1a" stroke-width="1.0" />
<line x1="370.25" y1="92.39" x2="366.05" y2="92.39" stroke="#1a1a1a" stroke-width="1.0" />
<line x1="370.25" y1="96.39" x2="366.05" y2="96.39" stroke="#1a1a1a" stroke-width="1.0" />
<line x1="370.25" y1="100.39" x2="364.25" y2="100.39" stroke="#1a1a1a" stroke-width="1.0" />
<line x1="370.25" y1="104.39" x2="366.05" y2="104.39" stroke="#1a1a1a" stroke-width="1.0" />
<line x1="370.25" y1="108.39" x2="366.05" y2="108.39" stroke="#1a1a1a" stroke-width="1.0" />
<line x1="370.25" y1="112.38" x2="366.05" y2="112.38" stroke="#1a1a1a" stroke-width="1.0" />
<line x1="370.25" y1="116.38" x2="366.05" y2="116.38" stroke="#1a1a1a" stroke-width="1.0" />
<line x1="370.25" y1="120.38" x2="361.95" y2="120.38" stroke="#1a1a1a" stroke-width="1.0" />
<line x1="370.25" y1="124.38" x2="366.05" y2="124.38" stroke="#1a1a1a" stroke-width="1.0" />
<line x1="370.25" y1="128.38" x2="366.05" y2="128.38" stroke="#1a1a1a" stroke-width="1.0" />
<line x1="370.25" y1="132.37" x2="366.05" y2="132.37" stroke="#1a1a1a" stroke-width="1.0" />
<line x1="370.25" y1="136.37" x2="366.05" y2="136.37" stroke="#1a1a1a" stroke-width="1.0" />
<line x1="370.25" y1="140.37" x2="364.25" y2="140.37" stroke="#1a1a1a" stroke-width="1.0" />
<line x1="370.25" y1="144.37" x2="366.05" y2="144.37" stroke="#1a1a1a" stroke-width="1.0" />
<line x1="370.25" y1="148.37" x2="366.05" y2="148.37" stroke="#1a1a1a" stroke-width="1.0" />
<line x1="370.25" y1="152.36" x2="366.05" y2="152.36" stroke="#1a1a1a" stroke-width="1.0" />
<line x1="370.25" y1="156.36" x2="366.05" y2="156.36" stroke="#1a1a1a" stroke-width="1.0" />
<line x1="370.25" y1="160.36" x2="361.95" y2="160.36" stroke="#1a1a1a" stroke-width="1.0" />
<line x1="370.25" y1="164.36" x2="366.05" y2="164.36" stroke="#1a1a1a" stroke-width="1.0" />
<line x1="370.25" y1="168.36" x2="366.05" y2="168.36" stroke="#1a1a1a" stroke-width="1.0" />
<line x1="370.25" y1="172.35" x2="366.05" y2="172.35" stroke="#1a1a1a" stroke-width="1.0" />
<line x1="370.25" y1="176.35" x2="366.05" y2="176.35" stroke="#1a1a1a" stroke-width="1.0" />
<line x1="370.25" y1="180.35" x2="364.25" y2="180.35" stroke="#1a1a1a" stroke-width="1.0" />
<line x1="370.25" y1="184.35" x2="366.05" y2="184.35" stroke="#1a1a1a" stroke-width="1.0" />
<line x1="370.25" y1="188.35" x2="366.05" y2="188.35" stroke="#1a1a1a" stroke-width="1.0" />
<line x1="370.25" y1="192.34" x2="366.05" y2="192.34" stroke="#1a1a1a" stroke-width="1.0" />
<line x1="370.25" y1="196.34" x2="366.05" y2="196.34" stroke="#1a1a1a" stroke-width="1.0" />
<line x1="370.25" y1="200.34" x2="361.95" y2="200.34" stroke="#1a1a1a" stroke-width="1.0" />
<line x1="370.25" y1="204.34" x2="366.05" y2="204.34" stroke="#1a1a1a" stroke-width="1.0" />
<line x1="370.25" y1="208.34" x2="366.05" y2="208.34" stroke="#1a1a1a" stroke-width="1.0" />
<line x1="370.25" y1="212.33" x2="366.05" y2="212.33" stroke="#1a1a1a" stroke-width="1.0" />
<line x1="370.25" y1="216.33" x2="366.05" y2="216.33" stroke="#1a1a1a" stroke-width="1.0" />
<line x1="370.25" y1="220.33" x2="364.25" y2="220.33" stroke="#1a1a1a" stroke-width="1.0" />
<line x1="370.25" y1="224.33" x2="366.05" y2="224.33" stroke="#1a1a1a" stroke-width="1.0" />
<line x1="370.25" y1="228.33" x2="366.05" y2="228.33" stroke="#1a1a1a" stroke-width="1.0" />
<line x1="370.25" y1="232.32" x2="366.05" y2="232.32" stroke="#1a1a1a" stroke-width="1.0" />
<line x1="370.25" y1="236.32" x2="366.05" y2="236.32" stroke="#1a1a1a" stroke-width="1.0" />
<line x1="370.25" y1="240.32" x2="361.95" y2="240.32" stroke="#1a1a1a" stroke-width="1.0" />
<line x1="370.25" y1="244.32" x2="366.05" y2="244.32" stroke="#1a1a1a" stroke-width="1.0" />
<line x1="370.25" y1="248.32" x2="366.05" y2="248.32" stroke="#1a1a1a" stroke-width="1.0" />
<line x1="370.25" y1="252.31" x2="366.05" y2="252.31" stroke="#1a1a1a" stroke-width="1.0" />
<line x1="370.25" y1="256.31" x2="366.05" y2="256.31" stroke="#1a1a1a" stroke-width="1.0" />
<line x1="370.25" y1="260.31" x2="364.25" y2="260.31" stroke="#1a1a1a" stroke-width="1.0" />
<line x1="370.25" y1="264.31" x2="366.05" y2="264.31" stroke="#1a1a1a" stroke-width="1.0" />
<line x1="370.25" y1="268.31" x2="366.05" y2="268.31" stroke="#1a1a1a" stroke-width="1.0" />
<line x1="370.25" y1="272.30" x2="366.05" y2="272.30" stroke="#1a1a1a" stroke-width="1.0" />
<line x1="370.25" y1="276.30" x2="366.05" y2="276.30" stroke="#1a1a1a" stroke-width="1.0" />
<line x1="370.25" y1="280.30" x2="361.95" y2="280.30" stroke="#1a1a1a" stroke-width="1.0" />
<line x1="583.40" y1="80.40" x2="583.40" y2="280.30" stroke="#1a1a1a" stroke-width="1.0" />
<line x1="583.40" y1="80.40" x2="591.70" y2="80.40" stroke="#1a1a1a" stroke-width="1.0" />
<line x1="583.40" y1="84.40" x2="587.60" y2="84.40" stroke="#1a1a1a" stroke-width="1.0" />
<line x1="583.40" y1="88.40" x2="587.60" y2="88.40" stroke="#1a1a1a" stroke-width="1.0" />
<line x1="583.40" y1="92.39" x2="587.60" y2="92.39" stroke="#1a1a1a" stroke-width="1.0" />
<line x1="583.40" y1="96.39" x2="587.60" y2="96.39" stroke="#1a1a1a" stroke-width="1.0" />
<line x1="583.40" y1="100.39" x2="589.40" y2="100.39" stroke="#1a1a1a" stroke-width="1.0" />
<line x1="583.40" y1="104.39" x2="587.60" y2="104.39" stroke="#1a1a1a" stroke-width="1.0" />
<line x1="583.40" y1="108.39" x2="587.60" y2="108.39" stroke="#1a1a1a" stroke-width="1.0" />
<line x1="583.40" y1="112.38" x2="587.60" y2="112.38" stroke="#1a1a1a" stroke-width="1.0" />
<line x1="583.40" y1="116.38" x2="587.60" y2="116.38" stroke="#1a1a1a" stroke-width="1.0" />
<line x1="583.40" y1="120.38" x2="591.70" y2="120.38" stroke="#1a1a1a" stroke-width="1.0" />
<line x1="583.40" y1="124.38" x2="587.60" y2="124.38" stroke="#1a1a1a" stroke-width="1.0" />
<line x1="583.40" y1="128.38" x2="587.60" y2="128.38" stroke="#1a1a1a" stroke-width="1.0" />
<line x1="583.40" y1="132.37" x2="587.60" y2="132.37" stroke="#1a1a1a" stroke-width="1.0" />
<line x1="583.40" y1="136.37" x2="587.60" y2="136.37" stroke="#1a1a1a" stroke-width="1.0" />
<line x1="583.40" y1="140.37" x2="589.40" y2="140.37" stroke="#1a1a1a" stroke-width="1.0" />
<line x1="583.40" y1="144.37" x2="587.60" y2="144.37" stroke="#1a1a1a" stroke-width="1.0" />
<line x1="583.40" y1="148.37" x2="587.60" y2="148.37" stroke="#1a1a1a" stroke-width="1.0" />
<line x1="583.40" y1="152.36" x2="587.60" y2="152.36" stroke="#1a1a1a" stroke-width="1.0" />
<line x1="583.40" y1="156.36" x2="587.60" y2="156.36" stroke="#1a1a1a" stroke-width="1.0" />
<line x1="583.40" y1="160.36" x2="591.70" y2="160.36" stroke="#1a1a1a" stroke-width="1.0" />
<line x1="583.40" y1="164.36" x2="587.60" y2="164.36" stroke="#1a1a1a" stroke-width="1.0" />
<line x1="583.40" y1="168.36" x2="587.60" y2="168.36" stroke="#1a1a1a" stroke-width="1.0" />
<line x1="583.40" y1="172.35" x2="587.60" y2="172.35" stroke="#1a1a1a" stroke-width="1.0" />
<line x1="583.40" y1="176.35" x2="587.60" y2="176.35" stroke="#1a1a1a" stroke-width="1.0" />
<line x1="583.40" y1="180.35" x2="589.40" y2="180.35" stroke="#1a1a1a" stroke-width="1.0" />
<line x1="583.40" y1="184.35" x2="587.60" y2="184.35" stroke="#1a1a1a" stroke-width="1.0" />
<line x1="583.40" y1="188.35" x2="587.60" y2="188.35" stroke="#1a1a1a" stroke-width="1.0" />
<line x1="583.40" y1="192.34" x2="587.60" y2="192.34" stroke="#1a1a1a" stroke-width="1.0" />
<line x1="583.40" y1="196.34" x2="587.60" y2="196.34" stroke="#1a1a1a" stroke-width="1.0" />
<line x1="583.40" y1="200.34" x2="591.70" y2="200.34" stroke="#1a1a1a" stroke-width="1.0" />
<line x1="583.40" y1="204.34" x2="587.60" y2="204.34" stroke="#1a1a1a" stroke-width="1.0" />
<line x1="583.40" y1="208.34" x2="587.60" y2="208.34" stroke="#1a1a1a" stroke-width="1.0" />
<line x1="583.40" y1="212.33" x2="587.60" y2="212.33" stroke="#1a1a1a" stroke-width="1.0" />
<line x1="583.40" y1="216.33" x2="587.60" y2="216.33" stroke="#1a1a1a" stroke-width="1.0" />
<line x1="583.40" y1="220.33" x2="589.40" y2="220.33" stroke="#1a1a1a" stroke-width="1.0" />
<line x1="583.40" y1="224.33" x2="587.60" y2="224.33" stroke="#1a1a1a" stroke-width="1.0" />
<line x1="583.40" y1="228.33" x2="587.60" y2="228.33" stroke="#1a1a1a" stroke-width="1.0" />
<line x1="583.40" y1="232.32" x2="587.60" y2="232.32" stroke="#1a1a1a" stroke-width="1.0" />
<line x1="583.40" y1="236.32" x2="587.60" y2="236.32" stroke="#1a1a1a" stroke-width="1.0" />
<line x1="583.40" y1="240.32" x2="591.70" y2="240.32" stroke="#1a1a1a" stroke-width="1.0" />
<line x1="583.40" y1="244.32" x2="587.60" y2="244.32" stroke="#1a1a1a" stroke-width="1.0" />
<line x1="583.40" y1="248.32" x2="587.60" y2="248.32" stroke="#1a1a1a" stroke-width="1.0" />
<line x1="583.40" y1="252.31" x2="587.60" y2="252.31" stroke="#1a1a1a" stroke-width="1.0" />
<line x1="583.40" y1="256.31" x2="587.60" y2="256.31" stroke="#1a1a1a" stroke-width="1.0" />
<line x1="583.40" y1="260.31" x2="589.40" y2="260.31" stroke="#1a1a1a" stroke-width="1.0" />
<line x1="583.40" y1="264.31" x2="587.60" y2="264.31" stroke="#1a1a1a" stroke-width="1.0" />
<line x1="583.40" y1="268.31" x2="587.60" y2="268.31" stroke="#1a1a1a" stroke-width="1.0" />
<line x1="583.40" y1="272.30" x2="587.60" y2="272.30" stroke="#1a1a1a" stroke-width="1.0" />
<line x1="583.40" y1="276.30" x2="587.60" y2="276.30" stroke="#1a1a1a" stroke-width="1.0" />
<line x1="583.40" y1="280.30" x2="591.70" y2="280.30" stroke="#1a1a1a" stroke-width="1.0" />
<text x="357.75" y="84.60" text-anchor="end" font-size="11.75" >15.49</text>
<text x="357.75" y="124.58" text-anchor="end" font-size="11.75" >15.50</text>
<text x="357.75" y="164.56" text-anchor="end" font-size="11.75" >15.51</text>
<text x="357.75" y="204.54" text-anchor="end" font-size="11.75" >15.52</text>
<text x="357.75" y="244.52" text-anchor="end" font-size="11.75" >15.53</text>
<text x="357.75" y="284.50" text-anchor="end" font-size="11.75" >15.54</text>
<text x="0" y="0" text-anchor="middle" font-size="11.9" transform="translate(322.15,40.80) rotate(-90)">Res [mmag]</text>
<text x="0" y="0" text-anchor="middle" font-size="11.9" transform="translate(321.85,180.70) rotate(-90)">Relative Magnitude</text>
<text x="477.50" y="69.60" text-anchor="start" font-size="11.75" >Abell 31</text>
<text x="477.50" y="82.80" text-anchor="start" font-size="11.75" >rms = 4.4 mmag</text>
<polyline points="370.25,130.08 370.75,128.87 371.25,127.90 371.75,127.18 372.25,126.72 372.75,126.51 373.25,126.56 373.75,126.87 374.25,127.44 374.75,128.26 375.25,129.32 375.75,130.64 376.25,132.19 376.75,133.97 377.25,135.97 377.75,138.19 378.25,140.61 378.75,143.22 379.25,146.01 379.75,148.97 380.25,152.08 380.75,155.32 381.25,158.69 381.75,162.17 382.25,165.73 382.75,169.37 383.25,173.06 383.75,176.79 384.25,180.55 384.75,184.31 385.25,188.05 385.75,191.76 386.25,195.42 386.75,199.02 387.25,202.53 387.75,205.94 388.25,209.24 388.75,212.41 389.25,215.43 389.75,218.28 390.25,220.97 390.75,223.47 391.25,225.77 391.75,227.86 392.25,229.73 392.75,231.37 393.25,232.78 393.75,233.95 394.25,234.87 394.75,235.53 395.25,235.94 395.75,236.10 396.25,236.00 396.75,235.64 397.25,235.02 397.75,234.15 398.25,233.03 398.75,231.67 399.25,230.08 399.75,228.25 400.25,226.20 400.75,223.94 401.25,221.48 401.75,218.84 402.25,216.01 402.75,213.02 403.25,209.88 403.75,206.61 404.25,203.22 404.75,199.73 405.25,196.15 405.75,192.50 406.25,188.79 406.75,185.06 407.25,181.30 407.75,177.54 408.25,173.81 408.75,170.10 409.25,166.45 409.75,162.87 410.25,159.38 410.75,155.99 411.25,152.72 411.75,149.58 412.25,146.59 412.75,143.76 413.25,141.12 413.75,138.66 414.25,136.40 414.75,134.35 415.25,132.52 415.75,130.93 416.25,129.57 416.75,128.45 417.25,127.58 417.75,126.96 418.25,126.60 418.75,126.50 419.25,126.66 419.75,127.07 420.25,127.73 420.75,128.65 421.25,129.82 421.75,131.23 422.25,132.87 422.75,134.74 423.25,136.83 423.75,139.13 424.25,141.63 424.75,144.32 425.25,147.17 425.75,150.19 426.25,153.36 426.75,156.66 427.25,160.07 427.75,163.58 428.25,167.18 428.75,170.84 429.25,174.55 429.75,178.29 430.25,182.05 430.75,185.81 431.25,189.54 431.75,193.23 432.25,196.87 432.75,200.43 433.25,203.91 433.75,207.28 434.25,210.52 434.75,213.63 435.25,216.59 435.75,219.38 436.25,221.99 436.75,224.41 437.25,226.63 437.75,228.63 438.25,230.41 438.75,231.96 439.25,233.28 439.75,234.34 440.25,235.16 440.75,235.73 441.25,236.04 441.75,236.09 442.25,235.88 442.75,235.42 443.25,234.70 443.75,233.73 444.25,232.52 444.75,231.06 445.25,229.37 445.75,227.46 446.25,225.32 446.75,222.98 447.25,220.45 447.75,217.73 448.25,214.83 448.75,211.78 449.25,208.59 449.75,205.27 450.25,201.84 450.75,198.31 451.25,194.70 451.75,191.02 452.25,187.30 452.75,183.55 453.25,179.80 453.75,176.05 454.25,172.32 454.75,168.64 455.25,165.01 455.75,161.46 456.25,158.01 456.75,154.66 457.25,151.44 457.75,148.36 458.25,145.44 458.75,142.68 459.25,140.11 459.75,137.73 460.25,135.55 460.75,133.59 461.25,131.86 461.75,130.35 462.25,129.09 462.75,128.07 463.25,127.30 463.75,126.79 464.25,126.53 464.75,126.53 465.25,126.79 465.75,127.30 466.25,128.07 466.75,129.09 467.25,130.35 467.75,131.86 468.25,133.59 468.75,135.55 469.25,137.73 469.75,140.11 470.25,142.68 470.75,145.44 471.25,148.36 471.75,151.44 472.25,154.66 472.75,158.01 473.25,161.46 473.75,165.01 474.25,168.64 474.75,172.32 475.25,176.05 475.75,179.80 476.25,183.55 476.75,187.30 477.25,191.02 477.75,194.70 478.25,198.31 478.75,201.84 479.25,205.27 479.75,208.59 480.25,211.78 480.75,214.83 481.25,217.73 481.75,220.45 482.25,222.98 482.75,225.32 483.25,227.46 483.75,229.37 484.25,231.06 484.75,232.52 485.25,233.73 485.75,234.70 486.25,235.42 486.75,235.88 487.25,236.09 487.75,236.04 488.25,235.73 488.75,235.16 489.25,234.34 489.75,233.28 490.25,231.96 490.75,230.41 491.25,228.63 491.75,226.63 492.25,224.41 492.75,221.99 493.25,219.38 493.75,216.59 494.25,213.63 494.75,210.52 495.25,207.28 495.75,203.91 496.25,200.43 496.75,196.87 497.25,193.23 497.75,189.54 498.25,185.81 498.75,182.05 499.25,178.29 499.75,174.55 500.25,170.84 500.75,167.18 501.25,163.58 501.75,160.07 502.25,156.66 502.75,153.36 503.25,150.19 503.75,147.17 504.25,144.32 504.75,141.63 505.25,139.13 505.75,136.83 506.25,134.74 506.75,132.87 507.25,131.23 507.75,129.82 508.25,128.65 508.75,127.73 509.25,127.07 509.75,126.66 510.25,126.50 510.75,126.60 511.25,126.96 511.75,127.58 512.25,128.45 512.75,129.57 513.25,130.93 513.75,132.52 514.25,134.35 514.75,136.40 515.25,138.66 515.75,141.12 516.25,143.76 516.75,146.59 517.25,149.58 517.75,152.72 518.25,155.99 518.75,159.38 519.25,162.87 519.75,166.45 520.25,170.10 520.75,173.81 521.25,177.54 521.75,181.30 522.25,185.06 522.75,188.79 523.25,192.50 523.75,196.15 524.25,199.73 524.75,203.22 525.25,206.61 525.75,209.88 526.25,213.02 526.75,216.01 527.25,218.84 527.75,221.48 528.25,223.94 528.75,226.20 529.25,228.25 529.75,230.08 530.25,231.67 530.75,233.03 531.25,234.15 531.75,235.02 532.25,235.64 532.75,236.00 533.25,236.10 533.75,235.94 534.25,235.53 534.75,234.87 535.25,233.95 535.75,232.78 536.25,231.37 536.75,229.73 537.25,227.86 537.75,225.77 538.25,223.47 538.75,220.97 539.25,218.28 539.75,215.43 540.25,212.41 540.75,209.24 541.25,205.94 541.75,202.53 542.25,199.02 542.75,195.42 543.25,191.76 543.75,188.05 544.25,184.31 544.75,180.55 545.25,176.79 545.75,173.06 546.25,169.37 546.75,165.73 547.25,162.17 547.75,158.69 548.25,155.32 548.75,152.08 549.25,148.97 549.75,146.01 550.25,143.22 550.75,140.61 551.25,138.19 551.75,135.97 552.25,133.97 552.75,132.19 553.25,130.64 553.75,129.32 554.25,128.26 554.75,127.44 555.25,126.87 555.75,126.56 556.25,126.51 556.75,126.72 557.25,127.18 557.75,127.90 558.25,128.87 558.75,130.08 559.25,131.54 559.75,133.23 560.25,135.14 560.75,137.28 561.25,139.62 561.75,142.15 562.25,144.87 562.75,147.77 563.25,150.82 563.75,154.01 564.25,157.33 564.75,160.76 565.25,164.29 565.75,167.90 566.25,171.58 566.75,175.30 567.25,179.05 567.75,182.80 568.25,186.55 568.75,190.28 569.25,193.96 569.75,197.59 570.25,201.14 570.75,204.59 571.25,207.94 571.75,211.16 572.25,214.24 572.75,217.16 573.25,219.92 573.75,222.49 574.25,224.87 574.75,227.05 575.25,229.01 575.75,230.74 576.25,232.25 576.75,233.51 577.25,234.53 577.75,235.30 578.25,235.81 578.75,236.07 579.25,236.07 579.75,235.81 580.25,235.30 580.75,234.53 581.25,233.51 581.75,232.25 582.25,230.74 582.75,229.01 583.25,227.05" fill="none" stroke="#111" stroke-width="1.25" stroke-dasharray="1.4 1.6"/>
<line x1="386.30" y1="178.60" x2="386.30" y2="220.80" stroke="#111" stroke-width="1.0" />
<line x1="383.10" y1="178.60" x2="389.50" y2="178.60" stroke="#111" stroke-width="1.0" />
<line x1="383.10" y1="220.80" x2="389.50" y2="220.80" stroke="#111" stroke-width="1.0" />
<line x1="386.30" y1="196.80" x2="386.30" y2="219.60" stroke="#111" stroke-width="1.0" />
<line x1="383.10" y1="196.80" x2="389.50" y2="196.80" stroke="#111" stroke-width="1.0" />
<line x1="383.10" y1="219.60" x2="389.50" y2="219.60" stroke="#111" stroke-width="1.0" />
<line x1="407.20" y1="177.10" x2="407.20" y2="191.10" stroke="#111" stroke-width="1.0" />
<line x1="404.00" y1="177.10" x2="410.40" y2="177.10" stroke="#111" stroke-width="1.0" />
<line x1="404.00" y1="191.10" x2="410.40" y2="191.10" stroke="#111" stroke-width="1.0" />
<line x1="407.20" y1="179.70" x2="407.20" y2="197.50" stroke="#111" stroke-width="1.0" />
<line x1="404.00" y1="179.70" x2="410.40" y2="179.70" stroke="#111" stroke-width="1.0" />
<line x1="404.00" y1="197.50" x2="410.40" y2="197.50" stroke="#111" stroke-width="1.0" />
<line x1="427.90" y1="106.10" x2="427.90" y2="126.20" stroke="#111" stroke-width="1.0" />
<line x1="424.70" y1="106.10" x2="431.10" y2="106.10" stroke="#111" stroke-width="1.0" />
<line x1="424.70" y1="126.20" x2="431.10" y2="126.20" stroke="#111" stroke-width="1.0" />
<line x1="431.30" y1="178.50" x2="431.30" y2="198.70" stroke="#111" stroke-width="1.0" />
<line x1="428.10" y1="178.50" x2="434.50" y2="178.50" stroke="#111" stroke-width="1.0" />
<line x1="428.10" y1="198.70" x2="434.50" y2="198.70" stroke="#111" stroke-width="1.0" />
<line x1="431.30" y1="189.70" x2="431.30" y2="209.70" stroke="#111" stroke-width="1.0" />
<line x1="428.10" y1="189.70" x2="434.50" y2="189.70" stroke="#111" stroke-width="1.0" />
<line x1="428.10" y1="209.70" x2="434.50" y2="209.70" stroke="#111" stroke-width="1.0" />
<line x1="438.60" y1="210.40" x2="438.60" y2="222.40" stroke="#111" stroke-width="1.0" />
<line x1="435.40" y1="210.40" x2="441.80" y2="210.40" stroke="#111" stroke-width="1.0" />
<line x1="435.40" y1="222.40" x2="441.80" y2="222.40" stroke="#111" stroke-width="1.0" />
<line x1="435.00" y1="217.00" x2="435.00" y2="231.30" stroke="#111" stroke-width="1.0" />
<line x1="431.80" y1="217.00" x2="438.20" y2="217.00" stroke="#111" stroke-width="1.0" />
<line x1="431.80" y1="231.30" x2="438.20" y2="231.30" stroke="#111" stroke-width="1.0" />
<line x1="477.20" y1="177.40" x2="477.20" y2="207.60" stroke="#111" stroke-width="1.0" />
<line x1="474.00" y1="177.40" x2="480.40" y2="177.40" stroke="#111" stroke-width="1.0" />
<line x1="474.00" y1="207.60" x2="480.40" y2="207.60" stroke="#111" stroke-width="1.0" />
<line x1="477.20" y1="190.20" x2="477.20" y2="218.20" stroke="#111" stroke-width="1.0" />
<line x1="474.00" y1="190.20" x2="480.40" y2="190.20" stroke="#111" stroke-width="1.0" />
<line x1="474.00" y1="218.20" x2="480.40" y2="218.20" stroke="#111" stroke-width="1.0" />
<line x1="568.20" y1="177.40" x2="568.20" y2="208.60" stroke="#111" stroke-width="1.0" />
<line x1="565.00" y1="177.40" x2="571.40" y2="177.40" stroke="#111" stroke-width="1.0" />
<line x1="565.00" y1="208.60" x2="571.40" y2="208.60" stroke="#111" stroke-width="1.0" />
<line x1="568.20" y1="185.50" x2="568.20" y2="207.50" stroke="#111" stroke-width="1.0" />
<line x1="565.00" y1="185.50" x2="571.40" y2="185.50" stroke="#111" stroke-width="1.0" />
<line x1="565.00" y1="207.50" x2="571.40" y2="207.50" stroke="#111" stroke-width="1.0" />
<line x1="568.20" y1="195.30" x2="568.20" y2="230.30" stroke="#111" stroke-width="1.0" />
<line x1="565.00" y1="195.30" x2="571.40" y2="195.30" stroke="#111" stroke-width="1.0" />
<line x1="565.00" y1="230.30" x2="571.40" y2="230.30" stroke="#111" stroke-width="1.0" />
<line x1="568.20" y1="200.50" x2="568.20" y2="240.10" stroke="#111" stroke-width="1.0" />
<line x1="565.00" y1="200.50" x2="571.40" y2="200.50" stroke="#111" stroke-width="1.0" />
<line x1="565.00" y1="240.10" x2="571.40" y2="240.10" stroke="#111" stroke-width="1.0" />
<circle cx="386.30" cy="199.70" r="2.85" fill="#000"/>
<circle cx="386.30" cy="208.20" r="2.85" fill="#000"/>
<circle cx="407.20" cy="184.10" r="2.85" fill="#000"/>
<circle cx="407.20" cy="188.60" r="2.85" fill="#000"/>
<circle cx="427.90" cy="116.60" r="2.85" fill="#000"/>
<circle cx="431.30" cy="188.60" r="2.85" fill="#000"/>
<circle cx="431.30" cy="199.70" r="2.85" fill="#000"/>
<circle cx="438.60" cy="216.40" r="2.85" fill="#000"/>
<circle cx="435.00" cy="224.20" r="2.85" fill="#000"/>
<circle cx="477.20" cy="192.50" r="2.85" fill="#000"/>
<circle cx="477.20" cy="204.20" r="2.85" fill="#000"/>
<circle cx="568.20" cy="193.00" r="2.85" fill="#000"/>
<circle cx="568.20" cy="196.50" r="2.85" fill="#000"/>
<circle cx="568.20" cy="212.80" r="2.85" fill="#000"/>
<circle cx="568.20" cy="220.30" r="2.85" fill="#000"/>
<circle cx="386.60" cy="42.00" r="2.85" fill="#000"/>
<circle cx="386.60" cy="47.40" r="2.85" fill="#000"/>
<circle cx="407.00" cy="41.60" r="2.85" fill="#000"/>
<circle cx="407.00" cy="43.00" r="2.85" fill="#000"/>
<circle cx="427.60" cy="20.40" r="2.85" fill="#000"/>
<circle cx="431.00" cy="41.00" r="2.85" fill="#000"/>
<circle cx="431.00" cy="45.00" r="2.85" fill="#000"/>
<circle cx="435.40" cy="44.00" r="2.85" fill="#000"/>
<circle cx="438.60" cy="34.00" r="2.85" fill="#000"/>
<circle cx="477.00" cy="42.40" r="2.85" fill="#000"/>
<circle cx="477.00" cy="46.40" r="2.85" fill="#000"/>
<circle cx="568.00" cy="43.00" r="2.85" fill="#000"/>
<circle cx="568.00" cy="45.00" r="2.85" fill="#000"/>
<circle cx="568.00" cy="52.40" r="2.85" fill="#000"/>
<circle cx="568.00" cy="54.40" r="2.85" fill="#000"/>
<line x1="59.20" y1="346.00" x2="279.10" y2="346.00" stroke="#1a1a1a" stroke-width="1.0" />
<line x1="59.20" y1="346.50" x2="59.20" y2="341.80" stroke="#1a1a1a" stroke-width="1.0" />
<line x1="65.31" y1="346.50" x2="65.31" y2="341.80" stroke="#1a1a1a" stroke-width="1.0" />
<line x1="71.42" y1="346.50" x2="71.42" y2="337.70" stroke="#1a1a1a" stroke-width="1.0" />
<line x1="77.53" y1="346.50" x2="77.53" y2="341.80" stroke="#1a1a1a" stroke-width="1.0" />
<line x1="83.63" y1="346.50" x2="83.63" y2="341.80" stroke="#1a1a1a" stroke-width="1.0" />
<line x1="89.74" y1="346.50" x2="89.74" y2="341.80" stroke="#1a1a1a" stroke-width="1.0" />
<line x1="95.85" y1="346.50" x2="95.85" y2="341.80" stroke="#1a1a1a" stroke-width="1.0" />
<line x1="101.96" y1="346.50" x2="101.96" y2="340.00" stroke="#1a1a1a" stroke-width="1.0" />
<line x1="108.07" y1="346.50" x2="108.07" y2="341.80" stroke="#1a1a1a" stroke-width="1.0" />
<line x1="114.18" y1="346.50" x2="114.18" y2="341.80" stroke="#1a1a1a" stroke-width="1.0" />
<line x1="120.28" y1="346.50" x2="120.28" y2="341.80" stroke="#1a1a1a" stroke-width="1.0" />
<line x1="126.39" y1="346.50" x2="126.39" y2="341.80" stroke="#1a1a1a" stroke-width="1.0" />
<line x1="132.50" y1="346.50" x2="132.50" y2="337.70" stroke="#1a1a1a" stroke-width="1.0" />
<line x1="138.61" y1="346.50" x2="138.61" y2="341.80" stroke="#1a1a1a" stroke-width="1.0" />
<line x1="144.72" y1="346.50" x2="144.72" y2="341.80" stroke="#1a1a1a" stroke-width="1.0" />
<line x1="150.83" y1="346.50" x2="150.83" y2="341.80" stroke="#1a1a1a" stroke-width="1.0" />
<line x1="156.93" y1="346.50" x2="156.93" y2="341.80" stroke="#1a1a1a" stroke-width="1.0" />
<line x1="163.04" y1="346.50" x2="163.04" y2="340.00" stroke="#1a1a1a" stroke-width="1.0" />
<line x1="169.15" y1="346.50" x2="169.15" y2="341.80" stroke="#1a1a1a" stroke-width="1.0" />
<line x1="175.26" y1="346.50" x2="175.26" y2="341.80" stroke="#1a1a1a" stroke-width="1.0" />
<line x1="181.37" y1="346.50" x2="181.37" y2="341.80" stroke="#1a1a1a" stroke-width="1.0" />
<line x1="187.48" y1="346.50" x2="187.48" y2="341.80" stroke="#1a1a1a" stroke-width="1.0" />
<line x1="193.58" y1="346.50" x2="193.58" y2="337.70" stroke="#1a1a1a" stroke-width="1.0" />
<line x1="199.69" y1="346.50" x2="199.69" y2="341.80" stroke="#1a1a1a" stroke-width="1.0" />
<line x1="205.80" y1="346.50" x2="205.80" y2="341.80" stroke="#1a1a1a" stroke-width="1.0" />
<line x1="211.91" y1="346.50" x2="211.91" y2="341.80" stroke="#1a1a1a" stroke-width="1.0" />
<line x1="218.02" y1="346.50" x2="218.02" y2="341.80" stroke="#1a1a1a" stroke-width="1.0" />
<line x1="224.12" y1="346.50" x2="224.12" y2="340.00" stroke="#1a1a1a" stroke-width="1.0" />
<line x1="230.23" y1="346.50" x2="230.23" y2="341.80" stroke="#1a1a1a" stroke-width="1.0" />
<line x1="236.34" y1="346.50" x2="236.34" y2="341.80" stroke="#1a1a1a" stroke-width="1.0" />
<line x1="242.45" y1="346.50" x2="242.45" y2="341.80" stroke="#1a1a1a" stroke-width="1.0" />
<line x1="248.56" y1="346.50" x2="248.56" y2="341.80" stroke="#1a1a1a" stroke-width="1.0" />
<line x1="254.67" y1="346.50" x2="254.67" y2="337.70" stroke="#1a1a1a" stroke-width="1.0" />
<line x1="260.78" y1="346.50" x2="260.78" y2="341.80" stroke="#1a1a1a" stroke-width="1.0" />
<line x1="266.88" y1="346.50" x2="266.88" y2="341.80" stroke="#1a1a1a" stroke-width="1.0" />
<line x1="272.99" y1="346.50" x2="272.99" y2="341.80" stroke="#1a1a1a" stroke-width="1.0" />
<line x1="279.10" y1="346.50" x2="279.10" y2="341.80" stroke="#1a1a1a" stroke-width="1.0" />
<line x1="59.20" y1="629.50" x2="279.10" y2="629.50" stroke="#1a1a1a" stroke-width="1.0" />
<line x1="59.20" y1="629.00" x2="59.20" y2="633.70" stroke="#1a1a1a" stroke-width="1.0" />
<line x1="65.31" y1="629.00" x2="65.31" y2="633.70" stroke="#1a1a1a" stroke-width="1.0" />
<line x1="71.42" y1="629.00" x2="71.42" y2="637.80" stroke="#1a1a1a" stroke-width="1.0" />
<line x1="77.53" y1="629.00" x2="77.53" y2="633.70" stroke="#1a1a1a" stroke-width="1.0" />
<line x1="83.63" y1="629.00" x2="83.63" y2="633.70" stroke="#1a1a1a" stroke-width="1.0" />
<line x1="89.74" y1="629.00" x2="89.74" y2="633.70" stroke="#1a1a1a" stroke-width="1.0" />
<line x1="95.85" y1="629.00" x2="95.85" y2="633.70" stroke="#1a1a1a" stroke-width="1.0" />
<line x1="101.96" y1="629.00" x2="101.96" y2="635.50" stroke="#1a1a1a" stroke-width="1.0" />
<line x1="108.07" y1="629.00" x2="108.07" y2="633.70" stroke="#1a1a1a" stroke-width="1.0" />
<line x1="114.18" y1="629.00" x2="114.18" y2="633.70" stroke="#1a1a1a" stroke-width="1.0" />
<line x1="120.28" y1="629.00" x2="120.28" y2="633.70" stroke="#1a1a1a" stroke-width="1.0" />
<line x1="126.39" y1="629.00" x2="126.39" y2="633.70" stroke="#1a1a1a" stroke-width="1.0" />
<line x1="132.50" y1="629.00" x2="132.50" y2="637.80" stroke="#1a1a1a" stroke-width="1.0" />
<line x1="138.61" y1="629.00" x2="138.61" y2="633.70" stroke="#1a1a1a" stroke-width="1.0" />
<line x1="144.72" y1="629.00" x2="144.72" y2="633.70" stroke="#1a1a1a" stroke-width="1.0" />
<line x1="150.83" y1="629.00" x2="150.83" y2="633.70" stroke="#1a1a1a" stroke-width="1.0" />
<line x1="156.93" y1="629.00" x2="156.93" y2="633.70" stroke="#1a1a1a" stroke-width="1.0" />
<line x1="163.04" y1="629.00" x2="163.04" y2="635.50" stroke="#1a1a1a" stroke-width="1.0" />
<line x1="169.15" y1="629.00" x2="169.15" y2="633.70" stroke="#1a1a1a" stroke-width="1.0" />
<line x1="175.26" y1="629.00" x2="175.26" y2="633.70" stroke="#1a1a1a" stroke-width="1.0" />
<line x1="181.37" y1="629.00" x2="181.37" y2="633.70" stroke="#1a1a1a" stroke-width="1.0" />
<line x1="187.48" y1="629.00" x2="187.48" y2="633.70" stroke="#1a1a1a" stroke-width="1.0" />
<line x1="193.58" y1="629.00" x2="193.58" y2="637.80" stroke="#1a1a1a" stroke-width="1.0" />
<line x1="199.69" y1="629.00" x2="199.69" y2="633.70" stroke="#1a1a1a" stroke-width="1.0" />
<line x1="205.80" y1="629.00" x2="205.80" y2="633.70" stroke="#1a1a1a" stroke-width="1.0" />
<line x1="211.91" y1="629.00" x2="211.91" y2="633.70" stroke="#1a1a1a" stroke-width="1.0" />
<line x1="218.02" y1="629.00" x2="218.02" y2="633.70" stroke="#1a1a1a" stroke-width="1.0" />
<line x1="224.12" y1="629.00" x2="224.12" y2="635.50" stroke="#1a1a1a" stroke-width="1.0" />
<line x1="230.23" y1="629.00" x2="230.23" y2="633.70" stroke="#1a1a1a" stroke-width="1.0" />
<line x1="236.34" y1="629.00" x2="236.34" y2="633.70" stroke="#1a1a1a" stroke-width="1.0" />
<line x1="242.45" y1="629.00" x2="242.45" y2="633.70" stroke="#1a1a1a" stroke-width="1.0" />
<line x1="248.56" y1="629.00" x2="248.56" y2="633.70" stroke="#1a1a1a" stroke-width="1.0" />
<line x1="254.67" y1="629.00" x2="254.67" y2="637.80" stroke="#1a1a1a" stroke-width="1.0" />
<line x1="260.78" y1="629.00" x2="260.78" y2="633.70" stroke="#1a1a1a" stroke-width="1.0" />
<line x1="266.88" y1="629.00" x2="266.88" y2="633.70" stroke="#1a1a1a" stroke-width="1.0" />
<line x1="272.99" y1="629.00" x2="272.99" y2="633.70" stroke="#1a1a1a" stroke-width="1.0" />
<line x1="279.10" y1="629.00" x2="279.10" y2="633.70" stroke="#1a1a1a" stroke-width="1.0" />
<text x="71.42" y="653.80" text-anchor="middle" font-size="12.0" >50000</text>
<text x="132.50" y="653.80" text-anchor="middle" font-size="12.0" >51000</text>
<text x="193.58" y="653.80" text-anchor="middle" font-size="12.0" >52000</text>
<text x="254.67" y="653.80" text-anchor="middle" font-size="12.0" >53000</text>
<text x="169.15" y="670.20" text-anchor="middle" font-size="12.0" >JD-2400000.5</text>
<line x1="59.20" y1="350.60" x2="59.20" y2="405.20" stroke="#1a1a1a" stroke-width="1.0" />
<line x1="59.20" y1="350.60" x2="55.00" y2="350.60" stroke="#1a1a1a" stroke-width="1.0" />
<line x1="59.20" y1="359.70" x2="50.90" y2="359.70" stroke="#1a1a1a" stroke-width="1.0" />
<line x1="59.20" y1="368.80" x2="55.00" y2="368.80" stroke="#1a1a1a" stroke-width="1.0" />
<line x1="59.20" y1="377.90" x2="50.90" y2="377.90" stroke="#1a1a1a" stroke-width="1.0" />
<line x1="59.20" y1="387.00" x2="55.00" y2="387.00" stroke="#1a1a1a" stroke-width="1.0" />
<line x1="59.20" y1="396.10" x2="50.90" y2="396.10" stroke="#1a1a1a" stroke-width="1.0" />
<line x1="59.20" y1="405.20" x2="55.00" y2="405.20" stroke="#1a1a1a" stroke-width="1.0" />
<line x1="279.10" y1="350.60" x2="279.10" y2="405.20" stroke="#1a1a1a" stroke-width="1.0" />
<line x1="279.10" y1="350.60" x2="283.30" y2="350.60" stroke="#1a1a1a" stroke-width="1.0" />
<line x1="279.10" y1="359.70" x2="287.40" y2="359.70" stroke="#1a1a1a" stroke-width="1.0" />
<line x1="279.10" y1="368.80" x2="283.30" y2="368.80" stroke="#1a1a1a" stroke-width="1.0" />
<line x1="279.10" y1="377.90" x2="287.40" y2="377.90" stroke="#1a1a1a" stroke-width="1.0" />
<line x1="279.10" y1="387.00" x2="283.30" y2="387.00" stroke="#1a1a1a" stroke-width="1.0" />
<line x1="279.10" y1="396.10" x2="287.40" y2="396.10" stroke="#1a1a1a" stroke-width="1.0" />
<line x1="279.10" y1="405.20" x2="283.30" y2="405.20" stroke="#1a1a1a" stroke-width="1.0" />
<text x="46.40" y="363.90" text-anchor="end" font-size="12.0" >-10</text>
<text x="46.40" y="382.10" text-anchor="end" font-size="12.0" >0</text>
<text x="46.40" y="400.30" text-anchor="end" font-size="12.0" >10</text>
<line x1="59.20" y1="377.90" x2="279.10" y2="377.90" stroke="#a2a2a2" stroke-width="1.4"/>
<line x1="59.20" y1="419.40" x2="59.20" y2="624.70" stroke="#1a1a1a" stroke-width="1.0" />
<line x1="59.20" y1="419.40" x2="50.90" y2="419.40" stroke="#1a1a1a" stroke-width="1.0" />
<line x1="59.20" y1="423.51" x2="55.00" y2="423.51" stroke="#1a1a1a" stroke-width="1.0" />
<line x1="59.20" y1="427.61" x2="55.00" y2="427.61" stroke="#1a1a1a" stroke-width="1.0" />
<line x1="59.20" y1="431.72" x2="55.00" y2="431.72" stroke="#1a1a1a" stroke-width="1.0" />
<line x1="59.20" y1="435.82" x2="55.00" y2="435.82" stroke="#1a1a1a" stroke-width="1.0" />
<line x1="59.20" y1="439.93" x2="53.20" y2="439.93" stroke="#1a1a1a" stroke-width="1.0" />
<line x1="59.20" y1="444.04" x2="55.00" y2="444.04" stroke="#1a1a1a" stroke-width="1.0" />
<line x1="59.20" y1="448.14" x2="55.00" y2="448.14" stroke="#1a1a1a" stroke-width="1.0" />
<line x1="59.20" y1="452.25" x2="55.00" y2="452.25" stroke="#1a1a1a" stroke-width="1.0" />
<line x1="59.20" y1="456.35" x2="55.00" y2="456.35" stroke="#1a1a1a" stroke-width="1.0" />
<line x1="59.20" y1="460.46" x2="50.90" y2="460.46" stroke="#1a1a1a" stroke-width="1.0" />
<line x1="59.20" y1="464.57" x2="55.00" y2="464.57" stroke="#1a1a1a" stroke-width="1.0" />
<line x1="59.20" y1="468.67" x2="55.00" y2="468.67" stroke="#1a1a1a" stroke-width="1.0" />
<line x1="59.20" y1="472.78" x2="55.00" y2="472.78" stroke="#1a1a1a" stroke-width="1.0" />
<line x1="59.20" y1="476.88" x2="55.00" y2="476.88" stroke="#1a1a1a" stroke-width="1.0" />
<line x1="59.20" y1="480.99" x2="53.20" y2="480.99" stroke="#1a1a1a" stroke-width="1.0" />
<line x1="59.20" y1="485.10" x2="55.00" y2="485.10" stroke="#1a1a1a" stroke-width="1.0" />
<line x1="59.20" y1="489.20" x2="55.00" y2="489.20" stroke="#1a1a1a" stroke-width="1.0" />
<line x1="59.20" y1="493.31" x2="55.00" y2="493.31" stroke="#1a1a1a" stroke-width="1.0" />
<line x1="59.20" y1="497.41" x2="55.00" y2="497.41" stroke="#1a1a1a" stroke-width="1.0" />
<line x1="59.20" y1="501.52" x2="50.90" y2="501.52" stroke="#1a1a1a" stroke-width="1.0" />
<line x1="59.20" y1="505.63" x2="55.00" y2="505.63" stroke="#1a1a1a" stroke-width="1.0" />
<line x1="59.20" y1="509.73" x2="55.00" y2="509.73" stroke="#1a1a1a" stroke-width="1.0" />
<line x1="59.20" y1="513.84" x2="55.00" y2="513.84" stroke="#1a1a1a" stroke-width="1.0" />
<line x1="59.20" y1="517.94" x2="55.00" y2="517.94" stroke="#1a1a1a" stroke-width="1.0" />
<line x1="59.20" y1="522.05" x2="53.20" y2="522.05" stroke="#1a1a1a" stroke-width="1.0" />
<line x1="59.20" y1="526.16" x2="55.00" y2="526.16" stroke="#1a1a1a" stroke-width="1.0" />
<line x1="59.20" y1="530.26" x2="55.00" y2="530.26" stroke="#1a1a1a" stroke-width="1.0" />
<line x1="59.20" y1="534.37" x2="55.00" y2="534.37" stroke="#1a1a1a" stroke-width="1.0" />
<line x1="59.20" y1="538.47" x2="55.00" y2="538.47" stroke="#1a1a1a" stroke-width="1.0" />
<line x1="59.20" y1="542.58" x2="50.90" y2="542.58" stroke="#1a1a1a" stroke-width="1.0" />
<line x1="59.20" y1="546.69" x2="55.00" y2="546.69" stroke="#1a1a1a" stroke-width="1.0" />
<line x1="59.20" y1="550.79" x2="55.00" y2="550.79" stroke="#1a1a1a" stroke-width="1.0" />
<line x1="59.20" y1="554.90" x2="55.00" y2="554.90" stroke="#1a1a1a" stroke-width="1.0" />
<line x1="59.20" y1="559.00" x2="55.00" y2="559.00" stroke="#1a1a1a" stroke-width="1.0" />
<line x1="59.20" y1="563.11" x2="53.20" y2="563.11" stroke="#1a1a1a" stroke-width="1.0" />
<line x1="59.20" y1="567.22" x2="55.00" y2="567.22" stroke="#1a1a1a" stroke-width="1.0" />
<line x1="59.20" y1="571.32" x2="55.00" y2="571.32" stroke="#1a1a1a" stroke-width="1.0" />
<line x1="59.20" y1="575.43" x2="55.00" y2="575.43" stroke="#1a1a1a" stroke-width="1.0" />
<line x1="59.20" y1="579.53" x2="55.00" y2="579.53" stroke="#1a1a1a" stroke-width="1.0" />
<line x1="59.20" y1="583.64" x2="50.90" y2="583.64" stroke="#1a1a1a" stroke-width="1.0" />
<line x1="59.20" y1="587.75" x2="55.00" y2="587.75" stroke="#1a1a1a" stroke-width="1.0" />
<line x1="59.20" y1="591.85" x2="55.00" y2="591.85" stroke="#1a1a1a" stroke-width="1.0" />
<line x1="59.20" y1="595.96" x2="55.00" y2="595.96" stroke="#1a1a1a" stroke-width="1.0" />
<line x1="59.20" y1="600.06" x2="55.00" y2="600.06" stroke="#1a1a1a" stroke-width="1.0" />
<line x1="59.20" y1="604.17" x2="53.20" y2="604.17" stroke="#1a1a1a" stroke-width="1.0" />
<line x1="59.20" y1="608.28" x2="55.00" y2="608.28" stroke="#1a1a1a" stroke-width="1.0" />
<line x1="59.20" y1="612.38" x2="55.00" y2="612.38" stroke="#1a1a1a" stroke-width="1.0" />
<line x1="59.20" y1="616.49" x2="55.00" y2="616.49" stroke="#1a1a1a" stroke-width="1.0" />
<line x1="59.20" y1="620.59" x2="55.00" y2="620.59" stroke="#1a1a1a" stroke-width="1.0" />
<line x1="59.20" y1="624.70" x2="50.90" y2="624.70" stroke="#1a1a1a" stroke-width="1.0" />
<line x1="279.10" y1="419.40" x2="279.10" y2="624.70" stroke="#1a1a1a" stroke-width="1.0" />
<line x1="279.10" y1="419.40" x2="287.40" y2="419.40" stroke="#1a1a1a" stroke-width="1.0" />
<line x1="279.10" y1="423.51" x2="283.30" y2="423.51" stroke="#1a1a1a" stroke-width="1.0" />
<line x1="279.10" y1="427.61" x2="283.30" y2="427.61" stroke="#1a1a1a" stroke-width="1.0" />
<line x1="279.10" y1="431.72" x2="283.30" y2="431.72" stroke="#1a1a1a" stroke-width="1.0" />
<line x1="279.10" y1="435.82" x2="283.30" y2="435.82" stroke="#1a1a1a" stroke-width="1.0" />
<line x1="279.10" y1="439.93" x2="285.10" y2="439.93" stroke="#1a1a1a" stroke-width="1.0" />
<line x1="279.10" y1="444.04" x2="283.30" y2="444.04" stroke="#1a1a1a" stroke-width="1.0" />
<line x1="279.10" y1="448.14" x2="283.30" y2="448.14" stroke="#1a1a1a" stroke-width="1.0" />
<line x1="279.10" y1="452.25" x2="283.30" y2="452.25" stroke="#1a1a1a" stroke-width="1.0" />
<line x1="279.10" y1="456.35" x2="283.30" y2="456.35" stroke="#1a1a1a" stroke-width="1.0" />
<line x1="279.10" y1="460.46" x2="287.40" y2="460.46" stroke="#1a1a1a" stroke-width="1.0" />
<line x1="279.10" y1="464.57" x2="283.30" y2="464.57" stroke="#1a1a1a" stroke-width="1.0" />
<line x1="279.10" y1="468.67" x2="283.30" y2="468.67" stroke="#1a1a1a" stroke-width="1.0" />
<line x1="279.10" y1="472.78" x2="283.30" y2="472.78" stroke="#1a1a1a" stroke-width="1.0" />
<line x1="279.10" y1="476.88" x2="283.30" y2="476.88" stroke="#1a1a1a" stroke-width="1.0" />
<line x1="279.10" y1="480.99" x2="285.10" y2="480.99" stroke="#1a1a1a" stroke-width="1.0" />
<line x1="279.10" y1="485.10" x2="283.30" y2="485.10" stroke="#1a1a1a" stroke-width="1.0" />
<line x1="279.10" y1="489.20" x2="283.30" y2="489.20" stroke="#1a1a1a" stroke-width="1.0" />
<line x1="279.10" y1="493.31" x2="283.30" y2="493.31" stroke="#1a1a1a" stroke-width="1.0" />
<line x1="279.10" y1="497.41" x2="283.30" y2="497.41" stroke="#1a1a1a" stroke-width="1.0" />
<line x1="279.10" y1="501.52" x2="287.40" y2="501.52" stroke="#1a1a1a" stroke-width="1.0" />
<line x1="279.10" y1="505.63" x2="283.30" y2="505.63" stroke="#1a1a1a" stroke-width="1.0" />
<line x1="279.10" y1="509.73" x2="283.30" y2="509.73" stroke="#1a1a1a" stroke-width="1.0" />
<line x1="279.10" y1="513.84" x2="283.30" y2="513.84" stroke="#1a1a1a" stroke-width="1.0" />
<line x1="279.10" y1="517.94" x2="283.30" y2="517.94" stroke="#1a1a1a" stroke-width="1.0" />
<line x1="279.10" y1="522.05" x2="285.10" y2="522.05" stroke="#1a1a1a" stroke-width="1.0" />
<line x1="279.10" y1="526.16" x2="283.30" y2="526.16" stroke="#1a1a1a" stroke-width="1.0" />
<line x1="279.10" y1="530.26" x2="283.30" y2="530.26" stroke="#1a1a1a" stroke-width="1.0" />
<line x1="279.10" y1="534.37" x2="283.30" y2="534.37" stroke="#1a1a1a" stroke-width="1.0" />
<line x1="279.10" y1="538.47" x2="283.30" y2="538.47" stroke="#1a1a1a" stroke-width="1.0" />
<line x1="279.10" y1="542.58" x2="287.40" y2="542.58" stroke="#1a1a1a" stroke-width="1.0" />
<line x1="279.10" y1="546.69" x2="283.30" y2="546.69" stroke="#1a1a1a" stroke-width="1.0" />
<line x1="279.10" y1="550.79" x2="283.30" y2="550.79" stroke="#1a1a1a" stroke-width="1.0" />
<line x1="279.10" y1="554.90" x2="283.30" y2="554.90" stroke="#1a1a1a" stroke-width="1.0" />
<line x1="279.10" y1="559.00" x2="283.30" y2="559.00" stroke="#1a1a1a" stroke-width="1.0" />
<line x1="279.10" y1="563.11" x2="285.10" y2="563.11" stroke="#1a1a1a" stroke-width="1.0" />
<line x1="279.10" y1="567.22" x2="283.30" y2="567.22" stroke="#1a1a1a" stroke-width="1.0" />
<line x1="279.10" y1="571.32" x2="283.30" y2="571.32" stroke="#1a1a1a" stroke-width="1.0" />
<line x1="279.10" y1="575.43" x2="283.30" y2="575.43" stroke="#1a1a1a" stroke-width="1.0" />
<line x1="279.10" y1="579.53" x2="283.30" y2="579.53" stroke="#1a1a1a" stroke-width="1.0" />
<line x1="279.10" y1="583.64" x2="287.40" y2="583.64" stroke="#1a1a1a" stroke-width="1.0" />
<line x1="279.10" y1="587.75" x2="283.30" y2="587.75" stroke="#1a1a1a" stroke-width="1.0" />
<line x1="279.10" y1="591.85" x2="283.30" y2="591.85" stroke="#1a1a1a" stroke-width="1.0" />
<line x1="279.10" y1="595.96" x2="283.30" y2="595.96" stroke="#1a1a1a" stroke-width="1.0" />
<line x1="279.10" y1="600.06" x2="283.30" y2="600.06" stroke="#1a1a1a" stroke-width="1.0" />
<line x1="279.10" y1="604.17" x2="285.10" y2="604.17" stroke="#1a1a1a" stroke-width="1.0" />
<line x1="279.10" y1="608.28" x2="283.30" y2="608.28" stroke="#1a1a1a" stroke-width="1.0" />
<line x1="279.10" y1="612.38" x2="283.30" y2="612.38" stroke="#1a1a1a" stroke-width="1.0" />
<line x1="279.10" y1="616.49" x2="283.30" y2="616.49" stroke="#1a1a1a" stroke-width="1.0" />
<line x1="279.10" y1="620.59" x2="283.30" y2="620.59" stroke="#1a1a1a" stroke-width="1.0" />
<line x1="279.10" y1="624.70" x2="287.40" y2="624.70" stroke="#1a1a1a" stroke-width="1.0" />
<text x="46.40" y="423.60" text-anchor="end" font-size="12.0" >13.96</text>
<text x="46.40" y="464.66" text-anchor="end" font-size="12.0" >13.97</text>
<text x="46.40" y="505.72" text-anchor="end" font-size="12.0" >13.98</text>
<text x="46.40" y="546.78" text-anchor="end" font-size="12.0" >13.99</text>
<text x="46.40" y="587.84" text-anchor="end" font-size="12.0" >14.00</text>
<text x="46.40" y="628.90" text-anchor="end" font-size="12.0" >14.01</text>
<text x="0" y="0" text-anchor="middle" font-size="12.15" transform="translate(23.40,375.50) rotate(-90)">Res [mmag]</text>
<text x="0" y="0" text-anchor="middle" font-size="12.15" transform="translate(10.05,521.30) rotate(-90)">Relative Magnitude</text>
<text x="189.70" y="407.20" text-anchor="start" font-size="12.0" >NGC 6853</text>
<text x="189.70" y="420.50" text-anchor="start" font-size="12.0" >rms = 3.0 mmag</text>
<line x1="70.90" y1="550.80" x2="70.90" y2="559.40" stroke="#111" stroke-width="1.0" />
<line x1="68.05" y1="550.80" x2="73.75" y2="550.80" stroke="#111" stroke-width="1.0" />
<line x1="68.05" y1="559.40" x2="73.75" y2="559.40" stroke="#111" stroke-width="1.0" />
<line x1="73.00" y1="527.60" x2="73.00" y2="533.10" stroke="#111" stroke-width="1.0" />
<line x1="70.15" y1="527.60" x2="75.85" y2="527.60" stroke="#111" stroke-width="1.0" />
<line x1="70.15" y1="533.10" x2="75.85" y2="533.10" stroke="#111" stroke-width="1.0" />
<line x1="74.60" y1="511.50" x2="74.60" y2="516.70" stroke="#111" stroke-width="1.0" />
<line x1="71.75" y1="511.50" x2="77.45" y2="511.50" stroke="#111" stroke-width="1.0" />
<line x1="71.75" y1="516.70" x2="77.45" y2="516.70" stroke="#111" stroke-width="1.0" />
<line x1="84.50" y1="510.60" x2="84.50" y2="516.30" stroke="#111" stroke-width="1.0" />
<line x1="81.65" y1="510.60" x2="87.35" y2="510.60" stroke="#111" stroke-width="1.0" />
<line x1="81.65" y1="516.30" x2="87.35" y2="516.30" stroke="#111" stroke-width="1.0" />
<line x1="82.40" y1="517.20" x2="82.40" y2="526.60" stroke="#111" stroke-width="1.0" />
<line x1="79.55" y1="517.20" x2="85.25" y2="517.20" stroke="#111" stroke-width="1.0" />
<line x1="79.55" y1="526.60" x2="85.25" y2="526.60" stroke="#111" stroke-width="1.0" />
<line x1="82.40" y1="523.00" x2="82.40" y2="528.60" stroke="#111" stroke-width="1.0" />
<line x1="79.55" y1="523.00" x2="85.25" y2="523.00" stroke="#111" stroke-width="1.0" />
<line x1="79.55" y1="528.60" x2="85.25" y2="528.60" stroke="#111" stroke-width="1.0" />
<line x1="86.00" y1="554.70" x2="86.00" y2="563.00" stroke="#111" stroke-width="1.0" />
<line x1="83.15" y1="554.70" x2="88.85" y2="554.70" stroke="#111" stroke-width="1.0" />
<line x1="83.15" y1="563.00" x2="88.85" y2="563.00" stroke="#111" stroke-width="1.0" />
<line x1="106.60" y1="525.60" x2="106.60" y2="534.40" stroke="#111" stroke-width="1.0" />
<line x1="103.75" y1="525.60" x2="109.45" y2="525.60" stroke="#111" stroke-width="1.0" />
<line x1="103.75" y1="534.40" x2="109.45" y2="534.40" stroke="#111" stroke-width="1.0" />
<line x1="106.60" y1="529.60" x2="106.60" y2="538.40" stroke="#111" stroke-width="1.0" />
<line x1="103.75" y1="529.60" x2="109.45" y2="529.60" stroke="#111" stroke-width="1.0" />
<line x1="103.75" y1="538.40" x2="109.45" y2="538.40" stroke="#111" stroke-width="1.0" />
<line x1="117.60" y1="544.00" x2="117.60" y2="550.00" stroke="#111" stroke-width="1.0" />
<line x1="114.75" y1="544.00" x2="120.45" y2="544.00" stroke="#111" stroke-width="1.0" />
<line x1="114.75" y1="550.00" x2="120.45" y2="550.00" stroke="#111" stroke-width="1.0" />
<line x1="128.60" y1="538.00" x2="128.60" y2="547.00" stroke="#111" stroke-width="1.0" />
<line x1="125.75" y1="538.00" x2="131.45" y2="538.00" stroke="#111" stroke-width="1.0" />
<line x1="125.75" y1="547.00" x2="131.45" y2="547.00" stroke="#111" stroke-width="1.0" />
<line x1="273.20" y1="521.80" x2="273.20" y2="530.20" stroke="#111" stroke-width="1.0" />
<line x1="270.35" y1="521.80" x2="276.05" y2="521.80" stroke="#111" stroke-width="1.0" />
<line x1="270.35" y1="530.20" x2="276.05" y2="530.20" stroke="#111" stroke-width="1.0" />
<line x1="273.20" y1="547.00" x2="273.20" y2="555.20" stroke="#111" stroke-width="1.0" />
<line x1="270.35" y1="547.00" x2="276.05" y2="547.00" stroke="#111" stroke-width="1.0" />
<line x1="270.35" y1="555.20" x2="276.05" y2="555.20" stroke="#111" stroke-width="1.0" />
<circle cx="70.90" cy="554.70" r="2.85" fill="#000"/>
<circle cx="73.00" cy="530.20" r="2.85" fill="#000"/>
<circle cx="74.60" cy="514.10" r="2.85" fill="#000"/>
<circle cx="84.50" cy="513.40" r="2.85" fill="#000"/>
<circle cx="82.40" cy="521.90" r="2.85" fill="#000"/>
<circle cx="82.40" cy="526.00" r="2.85" fill="#000"/>
<circle cx="86.00" cy="558.90" r="2.85" fill="#000"/>
<circle cx="106.60" cy="530.00" r="2.85" fill="#000"/>
<circle cx="106.60" cy="534.00" r="2.85" fill="#000"/>
<circle cx="117.60" cy="547.00" r="2.85" fill="#000"/>
<circle cx="117.60" cy="575.60" r="2.85" fill="#000"/>
<circle cx="128.60" cy="542.40" r="2.85" fill="#000"/>
<circle cx="273.20" cy="526.00" r="2.85" fill="#000"/>
<circle cx="273.20" cy="551.00" r="2.85" fill="#000"/>
<circle cx="70.60" cy="377.60" r="2.85" fill="#000"/>
<circle cx="73.00" cy="375.00" r="2.85" fill="#000"/>
<circle cx="75.00" cy="375.60" r="2.85" fill="#000"/>
<circle cx="84.60" cy="368.60" r="2.85" fill="#000"/>
<circle cx="82.00" cy="380.60" r="2.85" fill="#000"/>
<circle cx="86.00" cy="382.60" r="2.85" fill="#000"/>
<circle cx="106.60" cy="378.60" r="2.85" fill="#000"/>
<circle cx="117.40" cy="382.60" r="2.85" fill="#000"/>
<circle cx="117.40" cy="390.00" r="2.85" fill="#000"/>
<circle cx="128.60" cy="383.00" r="2.85" fill="#000"/>
<circle cx="273.40" cy="372.50" r="2.85" fill="#000"/>
<circle cx="273.40" cy="384.60" r="2.85" fill="#000"/>
<polyline points="59.80,515.36 60.30,519.27 60.80,523.47 61.30,527.88 61.80,532.40 62.30,536.96 62.80,541.46 63.30,545.82 63.80,549.94 64.30,553.74 64.80,557.15 65.30,560.10 65.80,562.54 66.30,564.41 66.80,565.68 67.30,566.32 67.80,566.32 68.30,565.68 68.80,564.41 69.30,562.54 69.80,560.10 70.30,557.15 70.80,553.74 71.30,549.94 71.80,545.82 72.30,541.46 72.80,536.96 73.30,532.40 73.80,527.88 74.30,523.47 74.80,519.27 75.30,515.36 75.80,511.83 76.30,508.73 76.80,506.13 77.30,504.09 77.80,502.64 78.30,501.81 78.80,501.61 79.30,502.06 79.80,503.14 80.30,504.84 80.80,507.11 81.30,509.91 81.80,513.19 82.30,516.89 82.80,520.92 83.30,525.21 83.80,529.68 84.30,534.23 84.80,538.78 85.30,543.23 85.80,547.50 86.30,551.50 86.80,555.15 87.30,558.39 87.80,561.14 88.30,563.36 88.80,564.99 89.30,566.01 89.80,566.40 90.30,566.14 90.80,565.25 91.30,563.73 91.80,561.63 92.30,558.98 92.80,555.84 93.30,552.26 93.80,548.32 94.30,544.10 94.80,539.68 95.30,535.14 95.80,530.58 96.30,526.09 96.80,521.76 97.30,517.67 97.80,513.90 98.30,510.53 98.80,507.63 99.30,505.25 99.80,503.43 100.30,502.23 100.80,501.65 101.30,501.72 101.80,502.42 102.30,503.75 102.80,505.68 103.30,508.17 103.80,511.17 104.30,514.62 104.80,518.46 105.30,522.61 105.80,526.98 106.30,531.49 106.80,536.05 107.30,540.57 107.80,544.96 108.30,549.13 108.80,553.01 109.30,556.50 109.80,559.55 110.30,562.10 110.80,564.08 111.30,565.48 111.80,566.24 112.30,566.37 112.80,565.86 113.30,564.71 113.80,562.96 114.30,560.63 114.80,557.78 115.30,554.45 115.80,550.72 116.30,546.66 116.80,542.35 117.30,537.87 117.80,533.32 118.30,528.77 118.80,524.34 119.30,520.09 119.80,516.12 120.30,512.50 120.80,509.31 121.30,506.61 121.80,504.45 122.30,502.88 122.80,501.92 123.30,501.60 123.80,501.92 124.30,502.88 124.80,504.45 125.30,506.61 125.80,509.31 126.30,512.50 126.80,516.12 127.30,520.09 127.80,524.34 128.30,528.77 128.80,533.32 129.30,537.87 129.80,542.35 130.30,546.66 130.80,550.72 131.30,554.45 131.80,557.78 132.30,560.63 132.80,562.96 133.30,564.71 133.80,565.86 134.30,566.37 134.80,566.24 135.30,565.48 135.80,564.08 136.30,562.10 136.80,559.55 137.30,556.50 137.80,553.01 138.30,549.13 138.80,544.96 139.30,540.57 139.80,536.05 140.30,531.49 140.80,526.98 141.30,522.61 141.80,518.46 142.30,514.62 142.80,511.17 143.30,508.17 143.80,505.68 144.30,503.75 144.80,502.42 145.30,501.72 145.80,501.65 146.30,502.23 146.80,503.43 147.30,505.25 147.80,507.63 148.30,510.53 148.80,513.90 149.30,517.67 149.80,521.76 150.30,526.09 150.80,530.58 151.30,535.14 151.80,539.68 152.30,544.10 152.80,548.32 153.30,552.26 153.80,555.84 154.30,558.98 154.80,561.63 155.30,563.73 155.80,565.25 156.30,566.14 156.80,566.40 157.30,566.01 157.80,564.99 158.30,563.36 158.80,561.14 159.30,558.39 159.80,555.15 160.30,551.50 160.80,547.50 161.30,543.23 161.80,538.78 162.30,534.23 162.80,529.68 163.30,525.21 163.80,520.92 164.30,516.89 164.80,513.19 165.30,509.91 165.80,507.11 166.30,504.84 166.80,503.14 167.30,502.06 167.80,501.61 168.30,501.81 168.80,502.64 169.30,504.09 169.80,506.13 170.30,508.73 170.80,511.83 171.30,515.36 171.80,519.27 172.30,523.47 172.80,527.88 173.30,532.40 173.80,536.96 174.30,541.46 174.80,545.82 175.30,549.94 175.80,553.74 176.30,557.15 176.80,560.10 177.30,562.54 177.80,564.41 178.30,565.68 178.80,566.32 179.30,566.32 179.80,565.68 180.30,564.41 180.80,562.54 181.30,560.10 181.80,557.15 182.30,553.74 182.80,549.94 183.30,545.82 183.80,541.46 184.30,536.96 184.80,532.40 185.30,527.88 185.80,523.47 186.30,519.27 186.80,515.36 187.30,511.83 187.80,508.73 188.30,506.13 188.80,504.09 189.30,502.64 189.80,501.81 190.30,501.61 190.80,502.06 191.30,503.14 191.80,504.84 192.30,507.11 192.80,509.91 193.30,513.19 193.80,516.89 194.30,520.92 194.80,525.21 195.30,529.68 195.80,534.23 196.30,538.78 196.80,543.23 197.30,547.50 197.80,551.50 198.30,555.15 198.80,558.39 199.30,561.14 199.80,563.36 200.30,564.99 200.80,566.01 201.30,566.40 201.80,566.14 202.30,565.25 202.80,563.73 203.30,561.63 203.80,558.98 204.30,555.84 204.80,552.26 205.30,548.32 205.80,544.10 206.30,539.68 206.80,535.14 207.30,530.58 207.80,526.09 208.30,521.76 208.80,517.67 209.30,513.90 209.80,510.53 210.30,507.63 210.80,505.25 211.30,503.43 211.80,502.23 212.30,501.65 212.80,501.72 213.30,502.42 213.80,503.75 214.30,505.68 214.80,508.17 215.30,511.17 215.80,514.62 216.30,518.46 216.80,522.61 217.30,526.98 217.80,531.49 218.30,536.05 218.80,540.57 219.30,544.96 219.80,549.13 220.30,553.01 220.80,556.50 221.30,559.55 221.80,562.10 222.30,564.08 222.80,565.48 223.30,566.24 223.80,566.37 224.30,565.86 224.80,564.71 225.30,562.96 225.80,560.63 226.30,557.78 226.80,554.45 227.30,550.72 227.80,546.66 228.30,542.35 228.80,537.87 229.30,533.32 229.80,528.77 230.30,524.34 230.80,520.09 231.30,516.12 231.80,512.50 232.30,509.31 232.80,506.61 233.30,504.45 233.80,502.88 234.30,501.92 234.80,501.60 235.30,501.92 235.80,502.88 236.30,504.45 236.80,506.61 237.30,509.31 237.80,512.50 238.30,516.12 238.80,520.09 239.30,524.34 239.80,528.77 240.30,533.32 240.80,537.87 241.30,542.35 241.80,546.66 242.30,550.72 242.80,554.45 243.30,557.78 243.80,560.63 244.30,562.96 244.80,564.71 245.30,565.86 245.80,566.37 246.30,566.24 246.80,565.48 247.30,564.08 247.80,562.10 248.30,559.55 248.80,556.50 249.30,553.01 249.80,549.13 250.30,544.96 250.80,540.57 251.30,536.05 251.80,531.49 252.30,526.98 252.80,522.61 253.30,518.46 253.80,514.62 254.30,511.17 254.80,508.17 255.30,505.68 255.80,503.75 256.30,502.42 256.80,501.72 257.30,501.65 257.80,502.23 258.30,503.43 258.80,505.25 259.30,507.63 259.80,510.53 260.30,513.90 260.80,517.67 261.30,521.76 261.80,526.09 262.30,530.58 262.80,535.14 263.30,539.68 263.80,544.10 264.30,548.32 264.80,552.26 265.30,555.84 265.80,558.98 266.30,561.63 266.80,563.73 267.30,565.25 267.80,566.14 268.30,566.40 268.80,566.01 269.30,564.99 269.80,563.36 270.30,561.14 270.80,558.39 271.30,555.15 271.80,551.50 272.30,547.50 272.80,543.23 273.30,538.78 273.80,534.23 274.30,529.68 274.80,525.21 275.30,520.92 275.80,516.89 276.30,513.19 276.80,509.91 277.30,507.11 277.80,504.84 278.30,503.14 278.80,502.06" fill="none" stroke="#c8687a" stroke-width="1.15" stroke-dasharray="1.4 1.6"/>
<line x1="364.50" y1="345.60" x2="584.40" y2="345.60" stroke="#1a1a1a" stroke-width="1.0" />
<line x1="364.50" y1="346.10" x2="364.50" y2="337.30" stroke="#1a1a1a" stroke-width="1.0" />
<line x1="368.90" y1="346.10" x2="368.90" y2="341.40" stroke="#1a1a1a" stroke-width="1.0" />
<line x1="373.30" y1="346.10" x2="373.30" y2="341.40" stroke="#1a1a1a" stroke-width="1.0" />
<line x1="377.69" y1="346.10" x2="377.69" y2="341.40" stroke="#1a1a1a" stroke-width="1.0" />
<line x1="382.09" y1="346.10" x2="382.09" y2="341.40" stroke="#1a1a1a" stroke-width="1.0" />
<line x1="386.49" y1="346.10" x2="386.49" y2="339.60" stroke="#1a1a1a" stroke-width="1.0" />
<line x1="390.89" y1="346.10" x2="390.89" y2="341.40" stroke="#1a1a1a" stroke-width="1.0" />
<line x1="395.29" y1="346.10" x2="395.29" y2="341.40" stroke="#1a1a1a" stroke-width="1.0" />
<line x1="399.68" y1="346.10" x2="399.68" y2="341.40" stroke="#1a1a1a" stroke-width="1.0" />
<line x1="404.08" y1="346.10" x2="404.08" y2="341.40" stroke="#1a1a1a" stroke-width="1.0" />
<line x1="408.48" y1="346.10" x2="408.48" y2="337.30" stroke="#1a1a1a" stroke-width="1.0" />
<line x1="412.88" y1="346.10" x2="412.88" y2="341.40" stroke="#1a1a1a" stroke-width="1.0" />
<line x1="417.28" y1="346.10" x2="417.28" y2="341.40" stroke="#1a1a1a" stroke-width="1.0" />
<line x1="421.67" y1="346.10" x2="421.67" y2="341.40" stroke="#1a1a1a" stroke-width="1.0" />
<line x1="426.07" y1="346.10" x2="426.07" y2="341.40" stroke="#1a1a1a" stroke-width="1.0" />
<line x1="430.47" y1="346.10" x2="430.47" y2="339.60" stroke="#1a1a1a" stroke-width="1.0" />
<line x1="434.87" y1="346.10" x2="434.87" y2="341.40" stroke="#1a1a1a" stroke-width="1.0" />
<line x1="439.27" y1="346.10" x2="439.27" y2="341.40" stroke="#1a1a1a" stroke-width="1.0" />
<line x1="443.66" y1="346.10" x2="443.66" y2="341.40" stroke="#1a1a1a" stroke-width="1.0" />
<line x1="448.06" y1="346.10" x2="448.06" y2="341.40" stroke="#1a1a1a" stroke-width="1.0" />
<line x1="452.46" y1="346.10" x2="452.46" y2="337.30" stroke="#1a1a1a" stroke-width="1.0" />
<line x1="456.86" y1="346.10" x2="456.86" y2="341.40" stroke="#1a1a1a" stroke-width="1.0" />
<line x1="461.26" y1="346.10" x2="461.26" y2="341.40" stroke="#1a1a1a" stroke-width="1.0" />
<line x1="465.65" y1="346.10" x2="465.65" y2="341.40" stroke="#1a1a1a" stroke-width="1.0" />
<line x1="470.05" y1="346.10" x2="470.05" y2="341.40" stroke="#1a1a1a" stroke-width="1.0" />
<line x1="474.45" y1="346.10" x2="474.45" y2="339.60" stroke="#1a1a1a" stroke-width="1.0" />
<line x1="478.85" y1="346.10" x2="478.85" y2="341.40" stroke="#1a1a1a" stroke-width="1.0" />
<line x1="483.25" y1="346.10" x2="483.25" y2="341.40" stroke="#1a1a1a" stroke-width="1.0" />
<line x1="487.64" y1="346.10" x2="487.64" y2="341.40" stroke="#1a1a1a" stroke-width="1.0" />
<line x1="492.04" y1="346.10" x2="492.04" y2="341.40" stroke="#1a1a1a" stroke-width="1.0" />
<line x1="496.44" y1="346.10" x2="496.44" y2="337.30" stroke="#1a1a1a" stroke-width="1.0" />
<line x1="500.84" y1="346.10" x2="500.84" y2="341.40" stroke="#1a1a1a" stroke-width="1.0" />
<line x1="505.24" y1="346.10" x2="505.24" y2="341.40" stroke="#1a1a1a" stroke-width="1.0" />
<line x1="509.63" y1="346.10" x2="509.63" y2="341.40" stroke="#1a1a1a" stroke-width="1.0" />
<line x1="514.03" y1="346.10" x2="514.03" y2="341.40" stroke="#1a1a1a" stroke-width="1.0" />
<line x1="518.43" y1="346.10" x2="518.43" y2="339.60" stroke="#1a1a1a" stroke-width="1.0" />
<line x1="522.83" y1="346.10" x2="522.83" y2="341.40" stroke="#1a1a1a" stroke-width="1.0" />
<line x1="527.23" y1="346.10" x2="527.23" y2="341.40" stroke="#1a1a1a" stroke-width="1.0" />
<line x1="531.62" y1="346.10" x2="531.62" y2="341.40" stroke="#1a1a1a" stroke-width="1.0" />
<line x1="536.02" y1="346.10" x2="536.02" y2="341.40" stroke="#1a1a1a" stroke-width="1.0" />
<line x1="540.42" y1="346.10" x2="540.42" y2="337.30" stroke="#1a1a1a" stroke-width="1.0" />
<line x1="544.82" y1="346.10" x2="544.82" y2="341.40" stroke="#1a1a1a" stroke-width="1.0" />
<line x1="549.22" y1="346.10" x2="549.22" y2="341.40" stroke="#1a1a1a" stroke-width="1.0" />
<line x1="553.61" y1="346.10" x2="553.61" y2="341.40" stroke="#1a1a1a" stroke-width="1.0" />
<line x1="558.01" y1="346.10" x2="558.01" y2="341.40" stroke="#1a1a1a" stroke-width="1.0" />
<line x1="562.41" y1="346.10" x2="562.41" y2="339.60" stroke="#1a1a1a" stroke-width="1.0" />
<line x1="566.81" y1="346.10" x2="566.81" y2="341.40" stroke="#1a1a1a" stroke-width="1.0" />
<line x1="571.21" y1="346.10" x2="571.21" y2="341.40" stroke="#1a1a1a" stroke-width="1.0" />
<line x1="575.60" y1="346.10" x2="575.60" y2="341.40" stroke="#1a1a1a" stroke-width="1.0" />
<line x1="580.00" y1="346.10" x2="580.00" y2="341.40" stroke="#1a1a1a" stroke-width="1.0" />
<line x1="584.40" y1="346.10" x2="584.40" y2="337.30" stroke="#1a1a1a" stroke-width="1.0" />
<line x1="364.50" y1="629.60" x2="584.40" y2="629.60" stroke="#1a1a1a" stroke-width="1.0" />
<line x1="364.50" y1="629.10" x2="364.50" y2="637.90" stroke="#1a1a1a" stroke-width="1.0" />
<line x1="368.90" y1="629.10" x2="368.90" y2="633.80" stroke="#1a1a1a" stroke-width="1.0" />
<line x1="373.30" y1="629.10" x2="373.30" y2="633.80" stroke="#1a1a1a" stroke-width="1.0" />
<line x1="377.69" y1="629.10" x2="377.69" y2="633.80" stroke="#1a1a1a" stroke-width="1.0" />
<line x1="382.09" y1="629.10" x2="382.09" y2="633.80" stroke="#1a1a1a" stroke-width="1.0" />
<line x1="386.49" y1="629.10" x2="386.49" y2="635.60" stroke="#1a1a1a" stroke-width="1.0" />
<line x1="390.89" y1="629.10" x2="390.89" y2="633.80" stroke="#1a1a1a" stroke-width="1.0" />
<line x1="395.29" y1="629.10" x2="395.29" y2="633.80" stroke="#1a1a1a" stroke-width="1.0" />
<line x1="399.68" y1="629.10" x2="399.68" y2="633.80" stroke="#1a1a1a" stroke-width="1.0" />
<line x1="404.08" y1="629.10" x2="404.08" y2="633.80" stroke="#1a1a1a" stroke-width="1.0" />
<line x1="408.48" y1="629.10" x2="408.48" y2="637.90" stroke="#1a1a1a" stroke-width="1.0" />
<line x1="412.88" y1="629.10" x2="412.88" y2="633.80" stroke="#1a1a1a" stroke-width="1.0" />
<line x1="417.28" y1="629.10" x2="417.28" y2="633.80" stroke="#1a1a1a" stroke-width="1.0" />
<line x1="421.67" y1="629.10" x2="421.67" y2="633.80" stroke="#1a1a1a" stroke-width="1.0" />
<line x1="426.07" y1="629.10" x2="426.07" y2="633.80" stroke="#1a1a1a" stroke-width="1.0" />
<line x1="430.47" y1="629.10" x2="430.47" y2="635.60" stroke="#1a1a1a" stroke-width="1.0" />
<line x1="434.87" y1="629.10" x2="434.87" y2="633.80" stroke="#1a1a1a" stroke-width="1.0" />
<line x1="439.27" y1="629.10" x2="439.27" y2="633.80" stroke="#1a1a1a" stroke-width="1.0" />
<line x1="443.66" y1="629.10" x2="443.66" y2="633.80" stroke="#1a1a1a" stroke-width="1.0" />
<line x1="448.06" y1="629.10" x2="448.06" y2="633.80" stroke="#1a1a1a" stroke-width="1.0" />
<line x1="452.46" y1="629.10" x2="452.46" y2="637.90" stroke="#1a1a1a" stroke-width="1.0" />
<line x1="456.86" y1="629.10" x2="456.86" y2="633.80" stroke="#1a1a1a" stroke-width="1.0" />
<line x1="461.26" y1="629.10" x2="461.26" y2="633.80" stroke="#1a1a1a" stroke-width="1.0" />
<line x1="465.65" y1="629.10" x2="465.65" y2="633.80" stroke="#1a1a1a" stroke-width="1.0" />
<line x1="470.05" y1="629.10" x2="470.05" y2="633.80" stroke="#1a1a1a" stroke-width="1.0" />
<line x1="474.45" y1="629.10" x2="474.45" y2="635.60" stroke="#1a1a1a" stroke-width="1.0" />
<line x1="478.85" y1="629.10" x2="478.85" y2="633.80" stroke="#1a1a1a" stroke-width="1.0" />
<line x1="483.25" y1="629.10" x2="483.25" y2="633.80" stroke="#1a1a1a" stroke-width="1.0" />
<line x1="487.64" y1="629.10" x2="487.64" y2="633.80" stroke="#1a1a1a" stroke-width="1.0" />
<line x1="492.04" y1="629.10" x2="492.04" y2="633.80" stroke="#1a1a1a" stroke-width="1.0" />
<line x1="496.44" y1="629.10" x2="496.44" y2="637.90" stroke="#1a1a1a" stroke-width="1.0" />
<line x1="500.84" y1="629.10" x2="500.84" y2="633.80" stroke="#1a1a1a" stroke-width="1.0" />
<line x1="505.24" y1="629.10" x2="505.24" y2="633.80" stroke="#1a1a1a" stroke-width="1.0" />
<line x1="509.63" y1="629.10" x2="509.63" y2="633.80" stroke="#1a1a1a" stroke-width="1.0" />
<line x1="514.03" y1="629.10" x2="514.03" y2="633.80" stroke="#1a1a1a" stroke-width="1.0" />
<line x1="518.43" y1="629.10" x2="518.43" y2="635.60" stroke="#1a1a1a" stroke-width="1.0" />
<line x1="522.83" y1="629.10" x2="522.83" y2="633.80" stroke="#1a1a1a" stroke-width="1.0" />
<line x1="527.23" y1="629.10" x2="527.23" y2="633.80" stroke="#1a1a1a" stroke-width="1.0" />
<line x1="531.62" y1="629.10" x2="531.62" y2="633.80" stroke="#1a1a1a" stroke-width="1.0" />
<line x1="536.02" y1="629.10" x2="536.02" y2="633.80" stroke="#1a1a1a" stroke-width="1.0" />
<line x1="540.42" y1="629.10" x2="540.42" y2="637.90" stroke="#1a1a1a" stroke-width="1.0" />
<line x1="544.82" y1="629.10" x2="544.82" y2="633.80" stroke="#1a1a1a" stroke-width="1.0" />
<line x1="549.22" y1="629.10" x2="549.22" y2="633.80" stroke="#1a1a1a" stroke-width="1.0" />
<line x1="553.61" y1="629.10" x2="553.61" y2="633.80" stroke="#1a1a1a" stroke-width="1.0" />
<line x1="558.01" y1="629.10" x2="558.01" y2="633.80" stroke="#1a1a1a" stroke-width="1.0" />
<line x1="562.41" y1="629.10" x2="562.41" y2="635.60" stroke="#1a1a1a" stroke-width="1.0" />
<line x1="566.81" y1="629.10" x2="566.81" y2="633.80" stroke="#1a1a1a" stroke-width="1.0" />
<line x1="571.21" y1="629.10" x2="571.21" y2="633.80" stroke="#1a1a1a" stroke-width="1.0" />
<line x1="575.60" y1="629.10" x2="575.60" y2="633.80" stroke="#1a1a1a" stroke-width="1.0" />
<line x1="580.00" y1="629.10" x2="580.00" y2="633.80" stroke="#1a1a1a" stroke-width="1.0" />
<line x1="584.40" y1="629.10" x2="584.40" y2="637.90" stroke="#1a1a1a" stroke-width="1.0" />
<text x="364.50" y="653.80" text-anchor="middle" font-size="12.0" >53200</text>
<text x="408.48" y="653.80" text-anchor="middle" font-size="12.0" >53400</text>
<text x="452.46" y="653.80" text-anchor="middle" font-size="12.0" >53600</text>
<text x="496.44" y="653.80" text-anchor="middle" font-size="12.0" >53800</text>
<text x="540.42" y="653.80" text-anchor="middle" font-size="12.0" >54000</text>
<text x="584.40" y="653.80" text-anchor="middle" font-size="12.0" >54200</text>
<text x="474.45" y="670.20" text-anchor="middle" font-size="12.0" >JD-240000.5</text>
<line x1="364.50" y1="350.60" x2="364.50" y2="405.20" stroke="#1a1a1a" stroke-width="1.0" />
<line x1="364.50" y1="350.60" x2="360.30" y2="350.60" stroke="#1a1a1a" stroke-width="1.0" />
<line x1="364.50" y1="359.70" x2="356.20" y2="359.70" stroke="#1a1a1a" stroke-width="1.0" />
<line x1="364.50" y1="368.80" x2="360.30" y2="368.80" stroke="#1a1a1a" stroke-width="1.0" />
<line x1="364.50" y1="377.90" x2="356.20" y2="377.90" stroke="#1a1a1a" stroke-width="1.0" />
<line x1="364.50" y1="387.00" x2="360.30" y2="387.00" stroke="#1a1a1a" stroke-width="1.0" />
<line x1="364.50" y1="396.10" x2="356.20" y2="396.10" stroke="#1a1a1a" stroke-width="1.0" />
<line x1="364.50" y1="405.20" x2="360.30" y2="405.20" stroke="#1a1a1a" stroke-width="1.0" />
<line x1="584.40" y1="350.60" x2="584.40" y2="405.20" stroke="#1a1a1a" stroke-width="1.0" />
<line x1="584.40" y1="350.60" x2="588.60" y2="350.60" stroke="#1a1a1a" stroke-width="1.0" />
<line x1="584.40" y1="359.70" x2="592.70" y2="359.70" stroke="#1a1a1a" stroke-width="1.0" />
<line x1="584.40" y1="368.80" x2="588.60" y2="368.80" stroke="#1a1a1a" stroke-width="1.0" />
<line x1="584.40" y1="377.90" x2="592.70" y2="377.90" stroke="#1a1a1a" stroke-width="1.0" />
<line x1="584.40" y1="387.00" x2="588.60" y2="387.00" stroke="#1a1a1a" stroke-width="1.0" />
<line x1="584.40" y1="396.10" x2="592.70" y2="396.10" stroke="#1a1a1a" stroke-width="1.0" />
<line x1="584.40" y1="405.20" x2="588.60" y2="405.20" stroke="#1a1a1a" stroke-width="1.0" />
<text x="351.30" y="363.90" text-anchor="end" font-size="12.0" >-10</text>
<text x="351.30" y="382.10" text-anchor="end" font-size="12.0" >0</text>
<text x="351.30" y="400.30" text-anchor="end" font-size="12.0" >10</text>
<line x1="364.50" y1="377.90" x2="584.40" y2="377.90" stroke="#a2a2a2" stroke-width="1.4"/>
<line x1="364.50" y1="419.50" x2="364.50" y2="625.00" stroke="#1a1a1a" stroke-width="1.0" />
<line x1="364.50" y1="419.50" x2="356.20" y2="419.50" stroke="#1a1a1a" stroke-width="1.0" />
<line x1="364.50" y1="424.64" x2="360.30" y2="424.64" stroke="#1a1a1a" stroke-width="1.0" />
<line x1="364.50" y1="429.78" x2="360.30" y2="429.78" stroke="#1a1a1a" stroke-width="1.0" />
<line x1="364.50" y1="434.91" x2="360.30" y2="434.91" stroke="#1a1a1a" stroke-width="1.0" />
<line x1="364.50" y1="440.05" x2="360.30" y2="440.05" stroke="#1a1a1a" stroke-width="1.0" />
<line x1="364.50" y1="445.19" x2="358.50" y2="445.19" stroke="#1a1a1a" stroke-width="1.0" />
<line x1="364.50" y1="450.33" x2="360.30" y2="450.33" stroke="#1a1a1a" stroke-width="1.0" />
<line x1="364.50" y1="455.46" x2="360.30" y2="455.46" stroke="#1a1a1a" stroke-width="1.0" />
<line x1="364.50" y1="460.60" x2="360.30" y2="460.60" stroke="#1a1a1a" stroke-width="1.0" />
<line x1="364.50" y1="465.74" x2="360.30" y2="465.74" stroke="#1a1a1a" stroke-width="1.0" />
<line x1="364.50" y1="470.87" x2="356.20" y2="470.87" stroke="#1a1a1a" stroke-width="1.0" />
<line x1="364.50" y1="476.01" x2="360.30" y2="476.01" stroke="#1a1a1a" stroke-width="1.0" />
<line x1="364.50" y1="481.15" x2="360.30" y2="481.15" stroke="#1a1a1a" stroke-width="1.0" />
<line x1="364.50" y1="486.29" x2="360.30" y2="486.29" stroke="#1a1a1a" stroke-width="1.0" />
<line x1="364.50" y1="491.42" x2="360.30" y2="491.42" stroke="#1a1a1a" stroke-width="1.0" />
<line x1="364.50" y1="496.56" x2="358.50" y2="496.56" stroke="#1a1a1a" stroke-width="1.0" />
<line x1="364.50" y1="501.70" x2="360.30" y2="501.70" stroke="#1a1a1a" stroke-width="1.0" />
<line x1="364.50" y1="506.84" x2="360.30" y2="506.84" stroke="#1a1a1a" stroke-width="1.0" />
<line x1="364.50" y1="511.98" x2="360.30" y2="511.98" stroke="#1a1a1a" stroke-width="1.0" />
<line x1="364.50" y1="517.11" x2="360.30" y2="517.11" stroke="#1a1a1a" stroke-width="1.0" />
<line x1="364.50" y1="522.25" x2="356.20" y2="522.25" stroke="#1a1a1a" stroke-width="1.0" />
<line x1="364.50" y1="527.39" x2="360.30" y2="527.39" stroke="#1a1a1a" stroke-width="1.0" />
<line x1="364.50" y1="532.52" x2="360.30" y2="532.52" stroke="#1a1a1a" stroke-width="1.0" />
<line x1="364.50" y1="537.66" x2="360.30" y2="537.66" stroke="#1a1a1a" stroke-width="1.0" />
<line x1="364.50" y1="542.80" x2="360.30" y2="542.80" stroke="#1a1a1a" stroke-width="1.0" />
<line x1="364.50" y1="547.94" x2="358.50" y2="547.94" stroke="#1a1a1a" stroke-width="1.0" />
<line x1="364.50" y1="553.07" x2="360.30" y2="553.07" stroke="#1a1a1a" stroke-width="1.0" />
<line x1="364.50" y1="558.21" x2="360.30" y2="558.21" stroke="#1a1a1a" stroke-width="1.0" />
<line x1="364.50" y1="563.35" x2="360.30" y2="563.35" stroke="#1a1a1a" stroke-width="1.0" />
<line x1="364.50" y1="568.49" x2="360.30" y2="568.49" stroke="#1a1a1a" stroke-width="1.0" />
<line x1="364.50" y1="573.62" x2="356.20" y2="573.62" stroke="#1a1a1a" stroke-width="1.0" />
<line x1="364.50" y1="578.76" x2="360.30" y2="578.76" stroke="#1a1a1a" stroke-width="1.0" />
<line x1="364.50" y1="583.90" x2="360.30" y2="583.90" stroke="#1a1a1a" stroke-width="1.0" />
<line x1="364.50" y1="589.04" x2="360.30" y2="589.04" stroke="#1a1a1a" stroke-width="1.0" />
<line x1="364.50" y1="594.17" x2="360.30" y2="594.17" stroke="#1a1a1a" stroke-width="1.0" />
<line x1="364.50" y1="599.31" x2="358.50" y2="599.31" stroke="#1a1a1a" stroke-width="1.0" />
<line x1="364.50" y1="604.45" x2="360.30" y2="604.45" stroke="#1a1a1a" stroke-width="1.0" />
<line x1="364.50" y1="609.59" x2="360.30" y2="609.59" stroke="#1a1a1a" stroke-width="1.0" />
<line x1="364.50" y1="614.72" x2="360.30" y2="614.72" stroke="#1a1a1a" stroke-width="1.0" />
<line x1="364.50" y1="619.86" x2="360.30" y2="619.86" stroke="#1a1a1a" stroke-width="1.0" />
<line x1="364.50" y1="625.00" x2="356.20" y2="625.00" stroke="#1a1a1a" stroke-width="1.0" />
<line x1="584.40" y1="419.50" x2="584.40" y2="625.00" stroke="#1a1a1a" stroke-width="1.0" />
<line x1="584.40" y1="419.50" x2="592.70" y2="419.50" stroke="#1a1a1a" stroke-width="1.0" />
<line x1="584.40" y1="424.64" x2="588.60" y2="424.64" stroke="#1a1a1a" stroke-width="1.0" />
<line x1="584.40" y1="429.78" x2="588.60" y2="429.78" stroke="#1a1a1a" stroke-width="1.0" />
<line x1="584.40" y1="434.91" x2="588.60" y2="434.91" stroke="#1a1a1a" stroke-width="1.0" />
<line x1="584.40" y1="440.05" x2="588.60" y2="440.05" stroke="#1a1a1a" stroke-width="1.0" />
<line x1="584.40" y1="445.19" x2="590.40" y2="445.19" stroke="#1a1a1a" stroke-width="1.0" />
<line x1="584.40" y1="450.33" x2="588.60" y2="450.33" stroke="#1a1a1a" stroke-width="1.0" />
<line x1="584.40" y1="455.46" x2="588.60" y2="455.46" stroke="#1a1a1a" stroke-width="1.0" />
<line x1="584.40" y1="460.60" x2="588.60" y2="460.60" stroke="#1a1a1a" stroke-width="1.0" />
<line x1="584.40" y1="465.74" x2="588.60" y2="465.74" stroke="#1a1a1a" stroke-width="1.0" />
<line x1="584.40" y1="470.87" x2="592.70" y2="470.87" stroke="#1a1a1a" stroke-width="1.0" />
<line x1="584.40" y1="476.01" x2="588.60" y2="476.01" stroke="#1a1a1a" stroke-width="1.0" />
<line x1="584.40" y1="481.15" x2="588.60" y2="481.15" stroke="#1a1a1a" stroke-width="1.0" />
<line x1="584.40" y1="486.29" x2="588.60" y2="486.29" stroke="#1a1a1a" stroke-width="1.0" />
<line x1="584.40" y1="491.42" x2="588.60" y2="491.42" stroke="#1a1a1a" stroke-width="1.0" />
<line x1="584.40" y1="496.56" x2="590.40" y2="496.56" stroke="#1a1a1a" stroke-width="1.0" />
<line x1="584.40" y1="501.70" x2="588.60" y2="501.70" stroke="#1a1a1a" stroke-width="1.0" />
<line x1="584.40" y1="506.84" x2="588.60" y2="506.84" stroke="#1a1a1a" stroke-width="1.0" />
<line x1="584.40" y1="511.98" x2="588.60" y2="511.98" stroke="#1a1a1a" stroke-width="1.0" />
<line x1="584.40" y1="517.11" x2="588.60" y2="517.11" stroke="#1a1a1a" stroke-width="1.0" />
<line x1="584.40" y1="522.25" x2="592.70" y2="522.25" stroke="#1a1a1a" stroke-width="1.0" />
<line x1="584.40" y1="527.39" x2="588.60" y2="527.39" stroke="#1a1a1a" stroke-width="1.0" />
<line x1="584.40" y1="532.52" x2="588.60" y2="532.52" stroke="#1a1a1a" stroke-width="1.0" />
<line x1="584.40" y1="537.66" x2="588.60" y2="537.66" stroke="#1a1a1a" stroke-width="1.0" />
<line x1="584.40" y1="542.80" x2="588.60" y2="542.80" stroke="#1a1a1a" stroke-width="1.0" />
<line x1="584.40" y1="547.94" x2="590.40" y2="547.94" stroke="#1a1a1a" stroke-width="1.0" />
<line x1="584.40" y1="553.07" x2="588.60" y2="553.07" stroke="#1a1a1a" stroke-width="1.0" />
<line x1="584.40" y1="558.21" x2="588.60" y2="558.21" stroke="#1a1a1a" stroke-width="1.0" />
<line x1="584.40" y1="563.35" x2="588.60" y2="563.35" stroke="#1a1a1a" stroke-width="1.0" />
<line x1="584.40" y1="568.49" x2="588.60" y2="568.49" stroke="#1a1a1a" stroke-width="1.0" />
<line x1="584.40" y1="573.62" x2="592.70" y2="573.62" stroke="#1a1a1a" stroke-width="1.0" />
<line x1="584.40" y1="578.76" x2="588.60" y2="578.76" stroke="#1a1a1a" stroke-width="1.0" />
<line x1="584.40" y1="583.90" x2="588.60" y2="583.90" stroke="#1a1a1a" stroke-width="1.0" />
<line x1="584.40" y1="589.04" x2="588.60" y2="589.04" stroke="#1a1a1a" stroke-width="1.0" />
<line x1="584.40" y1="594.17" x2="588.60" y2="594.17" stroke="#1a1a1a" stroke-width="1.0" />
<line x1="584.40" y1="599.31" x2="590.40" y2="599.31" stroke="#1a1a1a" stroke-width="1.0" />
<line x1="584.40" y1="604.45" x2="588.60" y2="604.45" stroke="#1a1a1a" stroke-width="1.0" />
<line x1="584.40" y1="609.59" x2="588.60" y2="609.59" stroke="#1a1a1a" stroke-width="1.0" />
<line x1="584.40" y1="614.72" x2="588.60" y2="614.72" stroke="#1a1a1a" stroke-width="1.0" />
<line x1="584.40" y1="619.86" x2="588.60" y2="619.86" stroke="#1a1a1a" stroke-width="1.0" />
<line x1="584.40" y1="625.00" x2="592.70" y2="625.00" stroke="#1a1a1a" stroke-width="1.0" />
<text x="351.30" y="423.70" text-anchor="end" font-size="12.0" >13.51</text>
<text x="351.30" y="475.07" text-anchor="end" font-size="12.0" >13.52</text>
<text x="351.30" y="526.45" text-anchor="end" font-size="12.0" >13.53</text>
<text x="351.30" y="577.82" text-anchor="end" font-size="12.0" >13.54</text>
<text x="351.30" y="629.20" text-anchor="end" font-size="12.0" >13.55</text>
<text x="0" y="0" text-anchor="middle" font-size="12.15" transform="translate(315.50,377.50) rotate(-90)">Res [mmag]</text>
<text x="0" y="0" text-anchor="middle" font-size="12.15" transform="translate(315.30,521.60) rotate(-90)">Relative magnitude</text>
<text x="491.40" y="408.20" text-anchor="start" font-size="12.0" >NGC 7293</text>
<text x="491.40" y="420.70" text-anchor="start" font-size="12.0" >rms = 3.3 mmag</text>
<polyline points="364.50,486.52 365.00,486.50 365.50,486.52 366.00,486.56 366.50,486.64 367.00,486.74 367.50,486.88 368.00,487.05 368.50,487.25 369.00,487.47 369.50,487.73 370.00,488.01 370.50,488.32 371.00,488.66 371.50,489.03 372.00,489.43 372.50,489.85 373.00,490.29 373.50,490.76 374.00,491.26 374.50,491.77 375.00,492.31 375.50,492.88 376.00,493.46 376.50,494.06 377.00,494.68 377.50,495.32 378.00,495.98 378.50,496.65 379.00,497.34 379.50,498.04 380.00,498.75 380.50,499.48 381.00,500.22 381.50,500.96 382.00,501.72 382.50,502.48 383.00,503.24 383.50,504.02 384.00,504.79 384.50,505.57 385.00,506.35 385.50,507.13 386.00,507.91 386.50,508.68 387.00,509.46 387.50,510.22 388.00,510.98 388.50,511.74 389.00,512.48 389.50,513.22 390.00,513.95 390.50,514.66 391.00,515.36 391.50,516.05 392.00,516.72 392.50,517.38 393.00,518.02 393.50,518.64 394.00,519.24 394.50,519.82 395.00,520.39 395.50,520.93 396.00,521.44 396.50,521.94 397.00,522.41 397.50,522.85 398.00,523.27 398.50,523.67 399.00,524.04 399.50,524.38 400.00,524.69 400.50,524.97 401.00,525.23 401.50,525.45 402.00,525.65 402.50,525.82 403.00,525.96 403.50,526.06 404.00,526.14 404.50,526.18 405.00,526.20 405.50,526.18 406.00,526.14 406.50,526.06 407.00,525.96 407.50,525.82 408.00,525.65 408.50,525.45 409.00,525.23 409.50,524.97 410.00,524.69 410.50,524.38 411.00,524.04 411.50,523.67 412.00,523.27 412.50,522.85 413.00,522.41 413.50,521.94 414.00,521.44 414.50,520.93 415.00,520.39 415.50,519.82 416.00,519.24 416.50,518.64 417.00,518.02 417.50,517.38 418.00,516.72 418.50,516.05 419.00,515.36 419.50,514.66 420.00,513.95 420.50,513.22 421.00,512.48 421.50,511.74 422.00,510.98 422.50,510.22 423.00,509.46 423.50,508.68 424.00,507.91 424.50,507.13 425.00,506.35 425.50,505.57 426.00,504.79 426.50,504.02 427.00,503.24 427.50,502.48 428.00,501.72 428.50,500.96 429.00,500.22 429.50,499.48 430.00,498.75 430.50,498.04 431.00,497.34 431.50,496.65 432.00,495.98 432.50,495.32 433.00,494.68 433.50,494.06 434.00,493.46 434.50,492.88 435.00,492.31 435.50,491.77 436.00,491.26 436.50,490.76 437.00,490.29 437.50,489.85 438.00,489.43 438.50,489.03 439.00,488.66 439.50,488.32 440.00,488.01 440.50,487.73 441.00,487.47 441.50,487.25 442.00,487.05 442.50,486.88 443.00,486.74 443.50,486.64 444.00,486.56 444.50,486.52 445.00,486.50 445.50,486.52 446.00,486.56 446.50,486.64 447.00,486.74 447.50,486.88 448.00,487.05 448.50,487.25 449.00,487.47 449.50,487.73 450.00,488.01 450.50,488.32 451.00,488.66 451.50,489.03 452.00,489.43 452.50,489.85 453.00,490.29 453.50,490.76 454.00,491.26 454.50,491.77 455.00,492.31 455.50,492.88 456.00,493.46 456.50,494.06 457.00,494.68 457.50,495.32 458.00,495.98 458.50,496.65 459.00,497.34 459.50,498.04 460.00,498.75 460.50,499.48 461.00,500.22 461.50,500.96 462.00,501.72 462.50,502.48 463.00,503.24 463.50,504.02 464.00,504.79 464.50,505.57 465.00,506.35 465.50,507.13 466.00,507.91 466.50,508.68 467.00,509.46 467.50,510.22 468.00,510.98 468.50,511.74 469.00,512.48 469.50,513.22 470.00,513.95 470.50,514.66 471.00,515.36 471.50,516.05 472.00,516.72 472.50,517.38 473.00,518.02 473.50,518.64 474.00,519.24 474.50,519.82 475.00,520.39 475.50,520.93 476.00,521.44 476.50,521.94 477.00,522.41 477.50,522.85 478.00,523.27 478.50,523.67 479.00,524.04 479.50,524.38 480.00,524.69 480.50,524.97 481.00,525.23 481.50,525.45 482.00,525.65 482.50,525.82 483.00,525.96 483.50,526.06 484.00,526.14 484.50,526.18 485.00,526.20 485.50,526.18 486.00,526.14 486.50,526.06 487.00,525.96 487.50,525.82 488.00,525.65 488.50,525.45 489.00,525.23 489.50,524.97 490.00,524.69 490.50,524.38 491.00,524.04 491.50,523.67 492.00,523.27 492.50,522.85 493.00,522.41 493.50,521.94 494.00,521.44 494.50,520.93 495.00,520.39 495.50,519.82 496.00,519.24 496.50,518.64 497.00,518.02 497.50,517.38 498.00,516.72 498.50,516.05 499.00,515.36 499.50,514.66 500.00,513.95 500.50,513.22 501.00,512.48 501.50,511.74 502.00,510.98 502.50,510.22 503.00,509.46 503.50,508.68 504.00,507.91 504.50,507.13 505.00,506.35 505.50,505.57 506.00,504.79 506.50,504.02 507.00,503.24 507.50,502.48 508.00,501.72 508.50,500.96 509.00,500.22 509.50,499.48 510.00,498.75 510.50,498.04 511.00,497.34 511.50,496.65 512.00,495.98 512.50,495.32 513.00,494.68 513.50,494.06 514.00,493.46 514.50,492.88 515.00,492.31 515.50,491.77 516.00,491.26 516.50,490.76 517.00,490.29 517.50,489.85 518.00,489.43 518.50,489.03 519.00,488.66 519.50,488.32 520.00,488.01 520.50,487.73 521.00,487.47 521.50,487.25 522.00,487.05 522.50,486.88 523.00,486.74 523.50,486.64 524.00,486.56 524.50,486.52 525.00,486.50 525.50,486.52 526.00,486.56 526.50,486.64 527.00,486.74 527.50,486.88 528.00,487.05 528.50,487.25 529.00,487.47 529.50,487.73 530.00,488.01 530.50,488.32 531.00,488.66 531.50,489.03 532.00,489.43 532.50,489.85 533.00,490.29 533.50,490.76 534.00,491.26 534.50,491.77 535.00,492.31 535.50,492.88 536.00,493.46 536.50,494.06 537.00,494.68 537.50,495.32 538.00,495.98 538.50,496.65 539.00,497.34 539.50,498.04 540.00,498.75 540.50,499.48 541.00,500.22 541.50,500.96 542.00,501.72 542.50,502.48 543.00,503.24 543.50,504.02 544.00,504.79 544.50,505.57 545.00,506.35 545.50,507.13 546.00,507.91 546.50,508.68 547.00,509.46 547.50,510.22 548.00,510.98 548.50,511.74 549.00,512.48 549.50,513.22 550.00,513.95 550.50,514.66 551.00,515.36 551.50,516.05 552.00,516.72 552.50,517.38 553.00,518.02 553.50,518.64 554.00,519.24 554.50,519.82 555.00,520.39 555.50,520.93 556.00,521.44 556.50,521.94 557.00,522.41 557.50,522.85 558.00,523.27 558.50,523.67 559.00,524.04 559.50,524.38 560.00,524.69 560.50,524.97 561.00,525.23 561.50,525.45 562.00,525.65 562.50,525.82 563.00,525.96 563.50,526.06 564.00,526.14 564.50,526.18 565.00,526.20 565.50,526.18 566.00,526.14 566.50,526.06 567.00,525.96 567.50,525.82 568.00,525.65 568.50,525.45 569.00,525.23 569.50,524.97 570.00,524.69 570.50,524.38 571.00,524.04 571.50,523.67 572.00,523.27 572.50,522.85 573.00,522.41 573.50,521.94 574.00,521.44 574.50,520.93 575.00,520.39 575.50,519.82 576.00,519.24 576.50,518.64 577.00,518.02 577.50,517.38 578.00,516.72 578.50,516.05 579.00,515.36 579.50,514.66 580.00,513.95 580.50,513.22 581.00,512.48 581.50,511.74 582.00,510.98 582.50,510.22 583.00,509.46 583.50,508.68 584.00,507.91" fill="none" stroke="#111" stroke-width="1.25" stroke-dasharray="1.4 1.6"/>
<line x1="393.70" y1="514.90" x2="393.70" y2="519.30" stroke="#111" stroke-width="1.0" />
<line x1="390.50" y1="514.90" x2="396.90" y2="514.90" stroke="#111" stroke-width="1.0" />
<line x1="390.50" y1="519.30" x2="396.90" y2="519.30" stroke="#111" stroke-width="1.0" />
<line x1="393.70" y1="531.80" x2="393.70" y2="543.00" stroke="#111" stroke-width="1.0" />
<line x1="390.50" y1="531.80" x2="396.90" y2="531.80" stroke="#111" stroke-width="1.0" />
<line x1="390.50" y1="543.00" x2="396.90" y2="543.00" stroke="#111" stroke-width="1.0" />
<line x1="434.50" y1="460.90" x2="434.50" y2="480.50" stroke="#111" stroke-width="1.0" />
<line x1="431.30" y1="460.90" x2="437.70" y2="460.90" stroke="#111" stroke-width="1.0" />
<line x1="431.30" y1="480.50" x2="437.70" y2="480.50" stroke="#111" stroke-width="1.0" />
<line x1="434.50" y1="476.50" x2="434.50" y2="484.90" stroke="#111" stroke-width="1.0" />
<line x1="431.30" y1="476.50" x2="437.70" y2="476.50" stroke="#111" stroke-width="1.0" />
<line x1="431.30" y1="484.90" x2="437.70" y2="484.90" stroke="#111" stroke-width="1.0" />
<line x1="449.30" y1="447.70" x2="449.30" y2="462.30" stroke="#111" stroke-width="1.0" />
<line x1="446.10" y1="447.70" x2="452.50" y2="447.70" stroke="#111" stroke-width="1.0" />
<line x1="446.10" y1="462.30" x2="452.50" y2="462.30" stroke="#111" stroke-width="1.0" />
<line x1="513.80" y1="478.30" x2="513.80" y2="493.30" stroke="#111" stroke-width="1.0" />
<line x1="510.60" y1="478.30" x2="517.00" y2="478.30" stroke="#111" stroke-width="1.0" />
<line x1="510.60" y1="493.30" x2="517.00" y2="493.30" stroke="#111" stroke-width="1.0" />
<line x1="513.80" y1="502.50" x2="513.80" y2="510.80" stroke="#111" stroke-width="1.0" />
<line x1="510.60" y1="502.50" x2="517.00" y2="502.50" stroke="#111" stroke-width="1.0" />
<line x1="510.60" y1="510.80" x2="517.00" y2="510.80" stroke="#111" stroke-width="1.0" />
<line x1="517.50" y1="496.30" x2="517.50" y2="506.30" stroke="#111" stroke-width="1.0" />
<line x1="514.30" y1="496.30" x2="520.70" y2="496.30" stroke="#111" stroke-width="1.0" />
<line x1="514.30" y1="506.30" x2="520.70" y2="506.30" stroke="#111" stroke-width="1.0" />
<line x1="522.80" y1="502.20" x2="522.80" y2="521.30" stroke="#111" stroke-width="1.0" />
<line x1="519.60" y1="502.20" x2="526.00" y2="502.20" stroke="#111" stroke-width="1.0" />
<line x1="519.60" y1="521.30" x2="526.00" y2="521.30" stroke="#111" stroke-width="1.0" />
<line x1="540.80" y1="499.20" x2="540.80" y2="504.20" stroke="#111" stroke-width="1.0" />
<line x1="537.60" y1="499.20" x2="544.00" y2="499.20" stroke="#111" stroke-width="1.0" />
<line x1="537.60" y1="504.20" x2="544.00" y2="504.20" stroke="#111" stroke-width="1.0" />
<line x1="540.80" y1="505.30" x2="540.80" y2="518.70" stroke="#111" stroke-width="1.0" />
<line x1="537.60" y1="505.30" x2="544.00" y2="505.30" stroke="#111" stroke-width="1.0" />
<line x1="537.60" y1="518.70" x2="544.00" y2="518.70" stroke="#111" stroke-width="1.0" />
<circle cx="393.70" cy="517.00" r="2.85" fill="#000"/>
<circle cx="393.70" cy="537.50" r="2.85" fill="#000"/>
<circle cx="434.50" cy="470.70" r="2.85" fill="#000"/>
<circle cx="434.50" cy="481.00" r="2.85" fill="#000"/>
<circle cx="449.30" cy="455.20" r="2.85" fill="#000"/>
<circle cx="513.80" cy="486.20" r="2.85" fill="#000"/>
<circle cx="513.80" cy="506.70" r="2.85" fill="#000"/>
<circle cx="517.50" cy="501.30" r="2.85" fill="#000"/>
<circle cx="522.80" cy="512.00" r="2.85" fill="#000"/>
<circle cx="540.80" cy="501.70" r="2.85" fill="#000"/>
<circle cx="540.80" cy="512.00" r="2.85" fill="#000"/>
<circle cx="393.60" cy="376.60" r="2.85" fill="#000"/>
<circle cx="393.60" cy="384.00" r="2.85" fill="#000"/>
<circle cx="434.00" cy="369.40" r="2.85" fill="#000"/>
<circle cx="434.00" cy="373.60" r="2.85" fill="#000"/>
<circle cx="449.00" cy="366.40" r="2.85" fill="#000"/>
<circle cx="514.00" cy="375.00" r="2.85" fill="#000"/>
<circle cx="514.00" cy="382.60" r="2.85" fill="#000"/>
<circle cx="517.40" cy="382.00" r="2.85" fill="#000"/>
<circle cx="522.00" cy="387.00" r="2.85" fill="#000"/>
<circle cx="541.00" cy="378.00" r="2.85" fill="#000"/>
<circle cx="541.00" cy="382.00" r="2.85" fill="#000"/>
</svg>
</body></html>
